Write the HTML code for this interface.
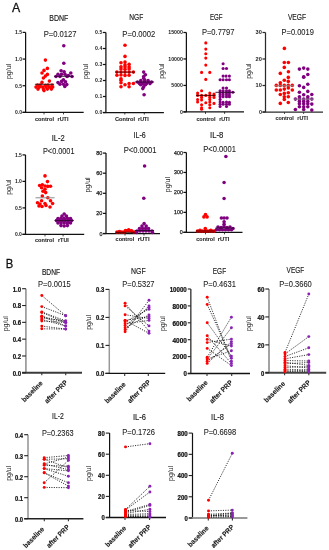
<!DOCTYPE html>
<html><head><meta charset="utf-8"><style>
html,body{margin:0;padding:0;background:#fff;overflow:hidden;}
svg{display:block;will-change:transform;}
text{font-family:"Liberation Sans", sans-serif;}
</style></head><body>
<svg width="329" height="550" viewBox="0 0 329 550">
<rect width="329" height="550" fill="#fff"/>
<text x="11.90" y="11.80" font-size="12.8" text-anchor="start" fill="#111" textLength="8.20" lengthAdjust="spacingAndGlyphs" stroke="#111" stroke-width="0.3">A</text>
<text x="5.80" y="267.70" font-size="12.8" text-anchor="start" fill="#111" textLength="7.50" lengthAdjust="spacingAndGlyphs" stroke="#111" stroke-width="0.3">B</text>
<line x1="25.60" y1="32.40" x2="25.60" y2="112.40" stroke="#111" stroke-width="1.25"/>
<line x1="22.60" y1="112.40" x2="83.70" y2="112.40" stroke="#111" stroke-width="1.25"/>
<line x1="22.60" y1="112.40" x2="25.60" y2="112.40" stroke="#111" stroke-width="1.25"/>
<text x="22.00" y="114.31" font-size="5.3" text-anchor="end" fill="#1a1a1a" font-weight="bold" textLength="7.00" lengthAdjust="spacingAndGlyphs">0.0</text>
<line x1="22.60" y1="85.73" x2="25.60" y2="85.73" stroke="#111" stroke-width="1.25"/>
<text x="22.00" y="87.64" font-size="5.3" text-anchor="end" fill="#1a1a1a" font-weight="bold" textLength="7.00" lengthAdjust="spacingAndGlyphs">0.5</text>
<line x1="22.60" y1="59.07" x2="25.60" y2="59.07" stroke="#111" stroke-width="1.25"/>
<text x="22.00" y="60.97" font-size="5.3" text-anchor="end" fill="#1a1a1a" font-weight="bold" textLength="7.00" lengthAdjust="spacingAndGlyphs">1.0</text>
<line x1="22.60" y1="32.40" x2="25.60" y2="32.40" stroke="#111" stroke-width="1.25"/>
<text x="22.00" y="34.31" font-size="5.3" text-anchor="end" fill="#1a1a1a" font-weight="bold" textLength="7.00" lengthAdjust="spacingAndGlyphs">1.5</text>
<line x1="44.00" y1="112.40" x2="44.00" y2="114.40" stroke="#111" stroke-width="0.8"/>
<line x1="63.50" y1="112.40" x2="63.50" y2="114.40" stroke="#111" stroke-width="0.8"/>
<text x="58.85" y="20.90" font-size="8.6" text-anchor="middle" fill="#1a1a1a" textLength="19.10" lengthAdjust="spacingAndGlyphs" stroke="#1a1a1a" stroke-width="0.15">BDNF</text>
<text x="60.15" y="36.80" font-size="9.0" text-anchor="middle" fill="#1a1a1a" textLength="32.90" lengthAdjust="spacingAndGlyphs" stroke="#1a1a1a" stroke-width="0.08">P=0.0127</text>
<text x="11.20" y="71.50" font-size="6.3" text-anchor="middle" fill="#222" textLength="15.20" lengthAdjust="spacingAndGlyphs" transform="rotate(-90 11.20 71.50)">pg/ul</text>
<text x="44.50" y="120.50" font-size="6.1" text-anchor="middle" fill="#2a2a2a" font-weight="bold" textLength="19.00" lengthAdjust="spacingAndGlyphs" stroke="#2a2a2a" stroke-width="0.1">control</text>
<text x="63.00" y="120.50" font-size="6.1" text-anchor="middle" fill="#2a2a2a" font-weight="bold" textLength="11.00" lengthAdjust="spacingAndGlyphs" stroke="#2a2a2a" stroke-width="0.1">rUTI</text>
<line x1="105.90" y1="32.50" x2="105.90" y2="112.50" stroke="#111" stroke-width="1.25"/>
<line x1="102.90" y1="112.50" x2="163.90" y2="112.50" stroke="#111" stroke-width="1.25"/>
<line x1="102.90" y1="112.50" x2="105.90" y2="112.50" stroke="#111" stroke-width="1.25"/>
<text x="102.30" y="114.41" font-size="5.3" text-anchor="end" fill="#1a1a1a" font-weight="bold" textLength="7.20" lengthAdjust="spacingAndGlyphs">0.0</text>
<line x1="102.90" y1="96.50" x2="105.90" y2="96.50" stroke="#111" stroke-width="1.25"/>
<text x="102.30" y="98.41" font-size="5.3" text-anchor="end" fill="#1a1a1a" font-weight="bold" textLength="7.20" lengthAdjust="spacingAndGlyphs">0.1</text>
<line x1="102.90" y1="80.50" x2="105.90" y2="80.50" stroke="#111" stroke-width="1.25"/>
<text x="102.30" y="82.41" font-size="5.3" text-anchor="end" fill="#1a1a1a" font-weight="bold" textLength="7.20" lengthAdjust="spacingAndGlyphs">0.2</text>
<line x1="102.90" y1="64.50" x2="105.90" y2="64.50" stroke="#111" stroke-width="1.25"/>
<text x="102.30" y="66.41" font-size="5.3" text-anchor="end" fill="#1a1a1a" font-weight="bold" textLength="7.20" lengthAdjust="spacingAndGlyphs">0.3</text>
<line x1="102.90" y1="48.50" x2="105.90" y2="48.50" stroke="#111" stroke-width="1.25"/>
<text x="102.30" y="50.41" font-size="5.3" text-anchor="end" fill="#1a1a1a" font-weight="bold" textLength="7.20" lengthAdjust="spacingAndGlyphs">0.4</text>
<line x1="102.90" y1="32.50" x2="105.90" y2="32.50" stroke="#111" stroke-width="1.25"/>
<text x="102.30" y="34.41" font-size="5.3" text-anchor="end" fill="#1a1a1a" font-weight="bold" textLength="7.20" lengthAdjust="spacingAndGlyphs">0.5</text>
<line x1="124.80" y1="112.50" x2="124.80" y2="114.50" stroke="#111" stroke-width="0.8"/>
<line x1="144.30" y1="112.50" x2="144.30" y2="114.50" stroke="#111" stroke-width="0.8"/>
<text x="136.30" y="19.90" font-size="8.6" text-anchor="middle" fill="#1a1a1a" textLength="14.00" lengthAdjust="spacingAndGlyphs" stroke="#1a1a1a" stroke-width="0.15">NGF</text>
<text x="138.80" y="36.90" font-size="9.0" text-anchor="middle" fill="#1a1a1a" textLength="32.90" lengthAdjust="spacingAndGlyphs" stroke="#1a1a1a" stroke-width="0.08">P=0.0002</text>
<text x="88.41" y="71.50" font-size="6.3" text-anchor="middle" fill="#222" textLength="15.20" lengthAdjust="spacingAndGlyphs" transform="rotate(-90 88.41 71.50)">pg/ul</text>
<text x="125.00" y="120.50" font-size="6.1" text-anchor="middle" fill="#2a2a2a" font-weight="bold" textLength="20.00" lengthAdjust="spacingAndGlyphs" stroke="#2a2a2a" stroke-width="0.1">Control</text>
<text x="143.40" y="120.50" font-size="6.1" text-anchor="middle" fill="#2a2a2a" font-weight="bold" textLength="10.70" lengthAdjust="spacingAndGlyphs" stroke="#2a2a2a" stroke-width="0.1">rUTI</text>
<line x1="186.40" y1="32.50" x2="186.40" y2="111.90" stroke="#111" stroke-width="1.25"/>
<line x1="183.40" y1="111.90" x2="244.00" y2="111.90" stroke="#111" stroke-width="1.25"/>
<line x1="183.40" y1="111.90" x2="186.40" y2="111.90" stroke="#111" stroke-width="1.25"/>
<text x="182.80" y="113.81" font-size="5.3" text-anchor="end" fill="#1a1a1a" font-weight="bold" textLength="2.90" lengthAdjust="spacingAndGlyphs">0</text>
<line x1="183.40" y1="85.43" x2="186.40" y2="85.43" stroke="#111" stroke-width="1.25"/>
<text x="182.80" y="87.34" font-size="5.3" text-anchor="end" fill="#1a1a1a" font-weight="bold" textLength="11.50" lengthAdjust="spacingAndGlyphs">5000</text>
<line x1="183.40" y1="58.97" x2="186.40" y2="58.97" stroke="#111" stroke-width="1.25"/>
<text x="182.80" y="60.87" font-size="5.3" text-anchor="end" fill="#1a1a1a" font-weight="bold" textLength="14.50" lengthAdjust="spacingAndGlyphs">10000</text>
<line x1="183.40" y1="32.50" x2="186.40" y2="32.50" stroke="#111" stroke-width="1.25"/>
<text x="182.80" y="34.41" font-size="5.3" text-anchor="end" fill="#1a1a1a" font-weight="bold" textLength="14.50" lengthAdjust="spacingAndGlyphs">15000</text>
<line x1="205.50" y1="111.90" x2="205.50" y2="113.90" stroke="#111" stroke-width="0.8"/>
<line x1="224.60" y1="111.90" x2="224.60" y2="113.90" stroke="#111" stroke-width="0.8"/>
<text x="216.30" y="19.70" font-size="8.6" text-anchor="middle" fill="#1a1a1a" textLength="12.60" lengthAdjust="spacingAndGlyphs" stroke="#1a1a1a" stroke-width="0.15">EGF</text>
<text x="218.20" y="35.30" font-size="9.0" text-anchor="middle" fill="#1a1a1a" textLength="32.60" lengthAdjust="spacingAndGlyphs" stroke="#1a1a1a" stroke-width="0.08">P=0.7797</text>
<text x="164.50" y="71.20" font-size="6.3" text-anchor="middle" fill="#222" textLength="15.20" lengthAdjust="spacingAndGlyphs" transform="rotate(-90 164.50 71.20)">pg/ul</text>
<text x="206.00" y="120.50" font-size="6.1" text-anchor="middle" fill="#2a2a2a" font-weight="bold" textLength="19.00" lengthAdjust="spacingAndGlyphs" stroke="#2a2a2a" stroke-width="0.1">control</text>
<text x="224.50" y="120.50" font-size="6.1" text-anchor="middle" fill="#2a2a2a" font-weight="bold" textLength="10.70" lengthAdjust="spacingAndGlyphs" stroke="#2a2a2a" stroke-width="0.1">rUTI</text>
<line x1="265.50" y1="32.50" x2="265.50" y2="112.00" stroke="#2a2a2a" stroke-width="1.25"/>
<line x1="262.50" y1="112.00" x2="323.00" y2="112.00" stroke="#2a2a2a" stroke-width="1.25"/>
<line x1="262.50" y1="112.00" x2="265.50" y2="112.00" stroke="#2a2a2a" stroke-width="1.25"/>
<text x="261.90" y="113.91" font-size="5.3" text-anchor="end" fill="#1a1a1a" font-weight="bold" textLength="3.00" lengthAdjust="spacingAndGlyphs">0</text>
<line x1="262.50" y1="85.50" x2="265.50" y2="85.50" stroke="#2a2a2a" stroke-width="1.25"/>
<text x="261.90" y="87.41" font-size="5.3" text-anchor="end" fill="#1a1a1a" font-weight="bold" textLength="6.30" lengthAdjust="spacingAndGlyphs">10</text>
<line x1="262.50" y1="59.00" x2="265.50" y2="59.00" stroke="#2a2a2a" stroke-width="1.25"/>
<text x="261.90" y="60.91" font-size="5.3" text-anchor="end" fill="#1a1a1a" font-weight="bold" textLength="6.30" lengthAdjust="spacingAndGlyphs">20</text>
<line x1="262.50" y1="32.50" x2="265.50" y2="32.50" stroke="#2a2a2a" stroke-width="1.25"/>
<text x="261.90" y="34.41" font-size="5.3" text-anchor="end" fill="#1a1a1a" font-weight="bold" textLength="6.30" lengthAdjust="spacingAndGlyphs">30</text>
<line x1="284.50" y1="112.00" x2="284.50" y2="114.00" stroke="#2a2a2a" stroke-width="0.8"/>
<line x1="303.60" y1="112.00" x2="303.60" y2="114.00" stroke="#2a2a2a" stroke-width="0.8"/>
<text x="297.00" y="19.60" font-size="8.6" text-anchor="middle" fill="#1a1a1a" textLength="18.20" lengthAdjust="spacingAndGlyphs" stroke="#1a1a1a" stroke-width="0.15">VEGF</text>
<text x="297.70" y="35.30" font-size="9.0" text-anchor="middle" fill="#1a1a1a" textLength="32.20" lengthAdjust="spacingAndGlyphs" stroke="#1a1a1a" stroke-width="0.08">P=0.0019</text>
<text x="251.20" y="71.20" font-size="6.3" text-anchor="middle" fill="#222" textLength="15.20" lengthAdjust="spacingAndGlyphs" transform="rotate(-90 251.20 71.20)">pg/ul</text>
<text x="284.60" y="119.90" font-size="6.1" text-anchor="middle" fill="#2a2a2a" font-weight="bold" textLength="18.40" lengthAdjust="spacingAndGlyphs" stroke="#2a2a2a" stroke-width="0.1">control</text>
<text x="302.70" y="119.90" font-size="6.1" text-anchor="middle" fill="#2a2a2a" font-weight="bold" textLength="10.70" lengthAdjust="spacingAndGlyphs" stroke="#2a2a2a" stroke-width="0.1">rUTI</text>
<line x1="25.50" y1="154.90" x2="25.50" y2="234.40" stroke="#111" stroke-width="1.25"/>
<line x1="22.50" y1="234.40" x2="84.20" y2="234.40" stroke="#111" stroke-width="1.25"/>
<line x1="22.50" y1="234.40" x2="25.50" y2="234.40" stroke="#111" stroke-width="1.25"/>
<text x="21.90" y="236.31" font-size="5.3" text-anchor="end" fill="#1a1a1a" font-weight="bold" textLength="7.00" lengthAdjust="spacingAndGlyphs">0.0</text>
<line x1="22.50" y1="207.90" x2="25.50" y2="207.90" stroke="#111" stroke-width="1.25"/>
<text x="21.90" y="209.81" font-size="5.3" text-anchor="end" fill="#1a1a1a" font-weight="bold" textLength="7.00" lengthAdjust="spacingAndGlyphs">0.5</text>
<line x1="22.50" y1="181.40" x2="25.50" y2="181.40" stroke="#111" stroke-width="1.25"/>
<text x="21.90" y="183.31" font-size="5.3" text-anchor="end" fill="#1a1a1a" font-weight="bold" textLength="7.00" lengthAdjust="spacingAndGlyphs">1.0</text>
<line x1="22.50" y1="154.90" x2="25.50" y2="154.90" stroke="#111" stroke-width="1.25"/>
<text x="21.90" y="156.81" font-size="5.3" text-anchor="end" fill="#1a1a1a" font-weight="bold" textLength="7.00" lengthAdjust="spacingAndGlyphs">1.5</text>
<line x1="45.00" y1="234.40" x2="45.00" y2="236.40" stroke="#111" stroke-width="0.8"/>
<line x1="63.10" y1="234.40" x2="63.10" y2="236.40" stroke="#111" stroke-width="0.8"/>
<text x="58.20" y="141.00" font-size="8.6" text-anchor="middle" fill="#1a1a1a" textLength="13.00" lengthAdjust="spacingAndGlyphs" stroke="#1a1a1a" stroke-width="0.15">IL-2</text>
<text x="58.75" y="153.80" font-size="9.0" text-anchor="middle" fill="#1a1a1a" textLength="31.50" lengthAdjust="spacingAndGlyphs" stroke="#1a1a1a" stroke-width="0.08">P&lt;0.0001</text>
<text x="11.30" y="187.20" font-size="6.3" text-anchor="middle" fill="#222" textLength="15.20" lengthAdjust="spacingAndGlyphs" transform="rotate(-90 11.30 187.20)">pg/ul</text>
<text x="44.50" y="242.20" font-size="6.1" text-anchor="middle" fill="#2a2a2a" font-weight="bold" textLength="19.00" lengthAdjust="spacingAndGlyphs" stroke="#2a2a2a" stroke-width="0.1">control</text>
<text x="63.40" y="242.20" font-size="6.1" text-anchor="middle" fill="#2a2a2a" font-weight="bold" textLength="11.00" lengthAdjust="spacingAndGlyphs" stroke="#2a2a2a" stroke-width="0.1">rTUI</text>
<line x1="106.00" y1="153.10" x2="106.00" y2="233.50" stroke="#111" stroke-width="1.25"/>
<line x1="103.00" y1="233.50" x2="160.00" y2="233.50" stroke="#111" stroke-width="1.25"/>
<line x1="103.00" y1="233.50" x2="106.00" y2="233.50" stroke="#111" stroke-width="1.25"/>
<text x="102.40" y="235.52" font-size="5.6" text-anchor="end" fill="#1a1a1a" textLength="3.00" lengthAdjust="spacingAndGlyphs" stroke="#1a1a1a" stroke-width="0.25">0</text>
<line x1="103.00" y1="213.40" x2="106.00" y2="213.40" stroke="#111" stroke-width="1.25"/>
<text x="102.40" y="215.42" font-size="5.6" text-anchor="end" fill="#1a1a1a" textLength="6.20" lengthAdjust="spacingAndGlyphs" stroke="#1a1a1a" stroke-width="0.25">20</text>
<line x1="103.00" y1="193.30" x2="106.00" y2="193.30" stroke="#111" stroke-width="1.25"/>
<text x="102.40" y="195.32" font-size="5.6" text-anchor="end" fill="#1a1a1a" textLength="6.20" lengthAdjust="spacingAndGlyphs" stroke="#1a1a1a" stroke-width="0.25">40</text>
<line x1="103.00" y1="173.20" x2="106.00" y2="173.20" stroke="#111" stroke-width="1.25"/>
<text x="102.40" y="175.22" font-size="5.6" text-anchor="end" fill="#1a1a1a" textLength="6.20" lengthAdjust="spacingAndGlyphs" stroke="#1a1a1a" stroke-width="0.25">60</text>
<line x1="103.00" y1="153.10" x2="106.00" y2="153.10" stroke="#111" stroke-width="1.25"/>
<text x="102.40" y="155.12" font-size="5.6" text-anchor="end" fill="#1a1a1a" textLength="6.20" lengthAdjust="spacingAndGlyphs" stroke="#1a1a1a" stroke-width="0.25">80</text>
<line x1="125.00" y1="233.50" x2="125.00" y2="235.50" stroke="#111" stroke-width="0.8"/>
<line x1="144.00" y1="233.50" x2="144.00" y2="235.50" stroke="#111" stroke-width="0.8"/>
<text x="139.60" y="137.90" font-size="8.6" text-anchor="middle" fill="#1a1a1a" textLength="12.20" lengthAdjust="spacingAndGlyphs" stroke="#1a1a1a" stroke-width="0.15">IL-6</text>
<text x="140.15" y="152.70" font-size="9.0" text-anchor="middle" fill="#1a1a1a" textLength="32.90" lengthAdjust="spacingAndGlyphs" stroke="#1a1a1a" stroke-width="0.08">P&lt;0.0001</text>
<text x="89.91" y="185.00" font-size="6.3" text-anchor="middle" fill="#222" textLength="15.20" lengthAdjust="spacingAndGlyphs" transform="rotate(-90 89.91 185.00)">pg/ul</text>
<text x="124.90" y="241.40" font-size="6.1" text-anchor="middle" fill="#2a2a2a" font-weight="bold" textLength="18.60" lengthAdjust="spacingAndGlyphs" stroke="#2a2a2a" stroke-width="0.1">control</text>
<text x="143.70" y="241.40" font-size="6.1" text-anchor="middle" fill="#2a2a2a" font-weight="bold" textLength="11.90" lengthAdjust="spacingAndGlyphs" stroke="#2a2a2a" stroke-width="0.1">rUTI</text>
<line x1="186.40" y1="152.50" x2="186.40" y2="232.30" stroke="#111" stroke-width="1.25"/>
<line x1="183.40" y1="232.30" x2="242.50" y2="232.30" stroke="#111" stroke-width="1.25"/>
<line x1="183.40" y1="232.30" x2="186.40" y2="232.30" stroke="#111" stroke-width="1.25"/>
<text x="182.80" y="234.32" font-size="5.6" text-anchor="end" fill="#1a1a1a" textLength="3.00" lengthAdjust="spacingAndGlyphs" stroke="#1a1a1a" stroke-width="0.25">0</text>
<line x1="183.40" y1="212.35" x2="186.40" y2="212.35" stroke="#111" stroke-width="1.25"/>
<text x="182.80" y="214.37" font-size="5.6" text-anchor="end" fill="#1a1a1a" textLength="8.70" lengthAdjust="spacingAndGlyphs" stroke="#1a1a1a" stroke-width="0.25">100</text>
<line x1="183.40" y1="192.40" x2="186.40" y2="192.40" stroke="#111" stroke-width="1.25"/>
<text x="182.80" y="194.42" font-size="5.6" text-anchor="end" fill="#1a1a1a" textLength="8.70" lengthAdjust="spacingAndGlyphs" stroke="#1a1a1a" stroke-width="0.25">200</text>
<line x1="183.40" y1="172.45" x2="186.40" y2="172.45" stroke="#111" stroke-width="1.25"/>
<text x="182.80" y="174.47" font-size="5.6" text-anchor="end" fill="#1a1a1a" textLength="8.70" lengthAdjust="spacingAndGlyphs" stroke="#1a1a1a" stroke-width="0.25">300</text>
<line x1="183.40" y1="152.50" x2="186.40" y2="152.50" stroke="#111" stroke-width="1.25"/>
<text x="182.80" y="154.52" font-size="5.6" text-anchor="end" fill="#1a1a1a" textLength="8.70" lengthAdjust="spacingAndGlyphs" stroke="#1a1a1a" stroke-width="0.25">400</text>
<line x1="205.50" y1="232.30" x2="205.50" y2="234.30" stroke="#111" stroke-width="0.8"/>
<line x1="224.50" y1="232.30" x2="224.50" y2="234.30" stroke="#111" stroke-width="0.8"/>
<text x="216.65" y="137.90" font-size="8.6" text-anchor="middle" fill="#1a1a1a" textLength="13.30" lengthAdjust="spacingAndGlyphs" stroke="#1a1a1a" stroke-width="0.15">IL-8</text>
<text x="219.60" y="152.40" font-size="9.0" text-anchor="middle" fill="#1a1a1a" textLength="32.60" lengthAdjust="spacingAndGlyphs" stroke="#1a1a1a" stroke-width="0.08">P&lt;0.0001</text>
<text x="169.70" y="184.60" font-size="6.3" text-anchor="middle" fill="#222" textLength="15.20" lengthAdjust="spacingAndGlyphs" transform="rotate(-90 169.70 184.60)">pg/ul</text>
<text x="205.50" y="240.50" font-size="6.1" text-anchor="middle" fill="#2a2a2a" font-weight="bold" textLength="18.30" lengthAdjust="spacingAndGlyphs" stroke="#2a2a2a" stroke-width="0.1">control</text>
<text x="223.60" y="240.50" font-size="6.1" text-anchor="middle" fill="#2a2a2a" font-weight="bold" textLength="11.50" lengthAdjust="spacingAndGlyphs" stroke="#2a2a2a" stroke-width="0.1">rUTI</text>
<circle cx="45.40" cy="60.10" r="1.8" fill="#ff0000"/>
<circle cx="47.40" cy="68.40" r="1.8" fill="#ff0000"/>
<circle cx="44.00" cy="70.40" r="1.8" fill="#ff0000"/>
<circle cx="42.00" cy="73.00" r="1.8" fill="#ff0000"/>
<circle cx="47.40" cy="74.40" r="1.8" fill="#ff0000"/>
<circle cx="45.40" cy="76.10" r="1.8" fill="#ff0000"/>
<circle cx="43.40" cy="78.00" r="1.8" fill="#ff0000"/>
<circle cx="49.40" cy="81.10" r="1.8" fill="#ff0000"/>
<circle cx="42.00" cy="82.40" r="1.8" fill="#ff0000"/>
<circle cx="37.50" cy="85.10" r="1.8" fill="#ff0000"/>
<circle cx="40.20" cy="85.10" r="1.8" fill="#ff0000"/>
<circle cx="45.40" cy="85.30" r="1.8" fill="#ff0000"/>
<circle cx="48.00" cy="85.10" r="1.8" fill="#ff0000"/>
<circle cx="52.00" cy="85.10" r="1.8" fill="#ff0000"/>
<circle cx="36.00" cy="87.10" r="1.8" fill="#ff0000"/>
<circle cx="39.40" cy="87.10" r="1.8" fill="#ff0000"/>
<circle cx="42.70" cy="87.10" r="1.8" fill="#ff0000"/>
<circle cx="46.00" cy="87.10" r="1.8" fill="#ff0000"/>
<circle cx="49.40" cy="87.10" r="1.8" fill="#ff0000"/>
<circle cx="52.70" cy="87.10" r="1.8" fill="#ff0000"/>
<circle cx="38.00" cy="89.10" r="1.8" fill="#ff0000"/>
<circle cx="43.40" cy="89.10" r="1.8" fill="#ff0000"/>
<circle cx="47.40" cy="89.10" r="1.8" fill="#ff0000"/>
<circle cx="51.40" cy="89.10" r="1.8" fill="#ff0000"/>
<circle cx="44.00" cy="90.60" r="1.8" fill="#ff0000"/>
<circle cx="63.80" cy="45.80" r="1.8" fill="#800080"/>
<circle cx="63.80" cy="63.30" r="1.8" fill="#800080"/>
<circle cx="61.10" cy="70.80" r="1.8" fill="#800080"/>
<circle cx="64.10" cy="71.70" r="1.8" fill="#800080"/>
<circle cx="70.80" cy="73.00" r="1.8" fill="#800080"/>
<circle cx="58.00" cy="74.30" r="1.8" fill="#800080"/>
<circle cx="61.50" cy="74.30" r="1.8" fill="#800080"/>
<circle cx="65.00" cy="74.30" r="1.8" fill="#800080"/>
<circle cx="68.40" cy="75.60" r="1.8" fill="#800080"/>
<circle cx="56.00" cy="76.50" r="1.8" fill="#800080"/>
<circle cx="60.00" cy="76.50" r="1.8" fill="#800080"/>
<circle cx="67.00" cy="76.50" r="1.8" fill="#800080"/>
<circle cx="72.00" cy="76.50" r="1.8" fill="#800080"/>
<circle cx="63.40" cy="79.70" r="1.8" fill="#800080"/>
<circle cx="61.60" cy="81.40" r="1.8" fill="#800080"/>
<circle cx="65.50" cy="81.80" r="1.8" fill="#800080"/>
<circle cx="60.00" cy="84.30" r="1.8" fill="#800080"/>
<circle cx="63.40" cy="84.30" r="1.8" fill="#800080"/>
<circle cx="66.80" cy="84.60" r="1.8" fill="#800080"/>
<circle cx="64.80" cy="86.40" r="1.8" fill="#800080"/>
<circle cx="58.00" cy="82.60" r="1.8" fill="#800080"/>
<line x1="34.90" y1="84.30" x2="54.10" y2="84.30" stroke="#222" stroke-width="0.9"/>
<line x1="54.10" y1="76.30" x2="73.40" y2="76.30" stroke="#2b0a2b" stroke-width="0.9"/>
<circle cx="125.00" cy="45.30" r="1.8" fill="#ff0000"/>
<circle cx="125.00" cy="56.40" r="1.8" fill="#ff0000"/>
<circle cx="121.00" cy="62.70" r="1.8" fill="#ff0000"/>
<circle cx="125.00" cy="62.10" r="1.8" fill="#ff0000"/>
<circle cx="129.10" cy="64.30" r="1.8" fill="#ff0000"/>
<circle cx="125.00" cy="64.90" r="1.8" fill="#ff0000"/>
<circle cx="121.00" cy="66.70" r="1.8" fill="#ff0000"/>
<circle cx="125.00" cy="66.90" r="1.8" fill="#ff0000"/>
<circle cx="129.10" cy="66.90" r="1.8" fill="#ff0000"/>
<circle cx="121.00" cy="68.90" r="1.8" fill="#ff0000"/>
<circle cx="125.00" cy="69.20" r="1.8" fill="#ff0000"/>
<circle cx="129.10" cy="68.90" r="1.8" fill="#ff0000"/>
<circle cx="116.90" cy="72.10" r="1.8" fill="#ff0000"/>
<circle cx="121.00" cy="72.10" r="1.8" fill="#ff0000"/>
<circle cx="125.00" cy="72.10" r="1.8" fill="#ff0000"/>
<circle cx="129.10" cy="72.10" r="1.8" fill="#ff0000"/>
<circle cx="133.40" cy="72.10" r="1.8" fill="#ff0000"/>
<circle cx="116.90" cy="75.30" r="1.8" fill="#ff0000"/>
<circle cx="121.00" cy="75.00" r="1.8" fill="#ff0000"/>
<circle cx="125.00" cy="75.40" r="1.8" fill="#ff0000"/>
<circle cx="129.10" cy="75.30" r="1.8" fill="#ff0000"/>
<circle cx="121.00" cy="78.80" r="1.8" fill="#ff0000"/>
<circle cx="121.00" cy="80.30" r="1.8" fill="#ff0000"/>
<circle cx="121.00" cy="82.80" r="1.8" fill="#ff0000"/>
<circle cx="125.00" cy="84.70" r="1.8" fill="#ff0000"/>
<circle cx="129.10" cy="83.50" r="1.8" fill="#ff0000"/>
<circle cx="133.40" cy="83.50" r="1.8" fill="#ff0000"/>
<circle cx="121.00" cy="86.70" r="1.8" fill="#ff0000"/>
<circle cx="129.10" cy="86.70" r="1.8" fill="#ff0000"/>
<circle cx="143.70" cy="72.10" r="1.8" fill="#800080"/>
<circle cx="145.40" cy="74.70" r="1.8" fill="#800080"/>
<circle cx="143.70" cy="76.60" r="1.8" fill="#800080"/>
<circle cx="143.70" cy="78.20" r="1.8" fill="#800080"/>
<circle cx="140.80" cy="80.50" r="1.8" fill="#800080"/>
<circle cx="144.70" cy="80.00" r="1.8" fill="#800080"/>
<circle cx="148.10" cy="80.50" r="1.8" fill="#800080"/>
<circle cx="137.50" cy="82.00" r="1.8" fill="#800080"/>
<circle cx="141.00" cy="82.00" r="1.8" fill="#800080"/>
<circle cx="144.50" cy="82.00" r="1.8" fill="#800080"/>
<circle cx="148.00" cy="82.00" r="1.8" fill="#800080"/>
<circle cx="151.50" cy="82.00" r="1.8" fill="#800080"/>
<circle cx="139.50" cy="83.60" r="1.8" fill="#800080"/>
<circle cx="143.00" cy="83.60" r="1.8" fill="#800080"/>
<circle cx="146.50" cy="83.60" r="1.8" fill="#800080"/>
<circle cx="150.00" cy="83.60" r="1.8" fill="#800080"/>
<circle cx="140.80" cy="84.80" r="1.8" fill="#800080"/>
<circle cx="145.40" cy="84.80" r="1.8" fill="#800080"/>
<circle cx="143.70" cy="86.70" r="1.8" fill="#800080"/>
<circle cx="142.80" cy="88.60" r="1.8" fill="#800080"/>
<circle cx="144.10" cy="94.80" r="1.8" fill="#800080"/>
<line x1="115.30" y1="72.10" x2="134.70" y2="72.10" stroke="#3a0000" stroke-width="0.9"/>
<line x1="134.70" y1="82.00" x2="154.10" y2="82.00" stroke="#2b0a2b" stroke-width="0.9"/>
<circle cx="205.80" cy="42.90" r="1.55" fill="#ff0000"/>
<circle cx="205.80" cy="49.10" r="1.55" fill="#ff0000"/>
<circle cx="205.80" cy="53.80" r="1.55" fill="#ff0000"/>
<circle cx="205.80" cy="58.10" r="1.55" fill="#ff0000"/>
<circle cx="205.80" cy="65.10" r="1.55" fill="#ff0000"/>
<circle cx="201.60" cy="72.40" r="1.55" fill="#ff0000"/>
<circle cx="209.80" cy="72.40" r="1.55" fill="#ff0000"/>
<circle cx="205.80" cy="79.40" r="1.55" fill="#ff0000"/>
<circle cx="201.60" cy="90.70" r="1.55" fill="#ff0000"/>
<circle cx="197.60" cy="93.10" r="1.55" fill="#ff0000"/>
<circle cx="209.80" cy="93.10" r="1.55" fill="#ff0000"/>
<circle cx="214.00" cy="94.00" r="1.55" fill="#ff0000"/>
<circle cx="197.60" cy="95.40" r="1.55" fill="#ff0000"/>
<circle cx="201.60" cy="95.40" r="1.55" fill="#ff0000"/>
<circle cx="205.80" cy="95.40" r="1.55" fill="#ff0000"/>
<circle cx="209.80" cy="95.40" r="1.55" fill="#ff0000"/>
<circle cx="214.00" cy="95.40" r="1.55" fill="#ff0000"/>
<circle cx="201.60" cy="97.40" r="1.55" fill="#ff0000"/>
<circle cx="209.80" cy="97.40" r="1.55" fill="#ff0000"/>
<circle cx="214.00" cy="97.40" r="1.55" fill="#ff0000"/>
<circle cx="197.60" cy="99.60" r="1.55" fill="#ff0000"/>
<circle cx="201.60" cy="99.90" r="1.55" fill="#ff0000"/>
<circle cx="209.80" cy="99.60" r="1.55" fill="#ff0000"/>
<circle cx="197.60" cy="102.00" r="1.55" fill="#ff0000"/>
<circle cx="205.80" cy="102.80" r="1.55" fill="#ff0000"/>
<circle cx="209.80" cy="102.00" r="1.55" fill="#ff0000"/>
<circle cx="214.00" cy="103.40" r="1.55" fill="#ff0000"/>
<circle cx="201.60" cy="104.80" r="1.55" fill="#ff0000"/>
<circle cx="209.80" cy="104.80" r="1.55" fill="#ff0000"/>
<circle cx="201.60" cy="107.80" r="1.55" fill="#ff0000"/>
<circle cx="209.80" cy="107.80" r="1.55" fill="#ff0000"/>
<circle cx="201.60" cy="109.20" r="1.55" fill="#ff0000"/>
<circle cx="223.10" cy="63.70" r="1.55" fill="#800080"/>
<circle cx="223.10" cy="68.50" r="1.55" fill="#800080"/>
<circle cx="226.50" cy="68.50" r="1.55" fill="#800080"/>
<circle cx="223.10" cy="76.10" r="1.55" fill="#800080"/>
<circle cx="226.10" cy="76.10" r="1.55" fill="#800080"/>
<circle cx="229.40" cy="76.10" r="1.55" fill="#800080"/>
<circle cx="220.10" cy="79.80" r="1.55" fill="#800080"/>
<circle cx="223.10" cy="79.80" r="1.55" fill="#800080"/>
<circle cx="226.50" cy="79.80" r="1.55" fill="#800080"/>
<circle cx="229.40" cy="79.80" r="1.55" fill="#800080"/>
<circle cx="223.10" cy="88.00" r="1.55" fill="#800080"/>
<circle cx="226.50" cy="88.00" r="1.55" fill="#800080"/>
<circle cx="220.10" cy="90.70" r="1.55" fill="#800080"/>
<circle cx="223.10" cy="90.70" r="1.55" fill="#800080"/>
<circle cx="226.50" cy="90.70" r="1.55" fill="#800080"/>
<circle cx="229.40" cy="90.70" r="1.55" fill="#800080"/>
<circle cx="220.10" cy="92.70" r="1.55" fill="#800080"/>
<circle cx="223.10" cy="92.70" r="1.55" fill="#800080"/>
<circle cx="226.50" cy="92.70" r="1.55" fill="#800080"/>
<circle cx="229.40" cy="92.70" r="1.55" fill="#800080"/>
<circle cx="232.80" cy="92.30" r="1.55" fill="#800080"/>
<circle cx="220.10" cy="94.70" r="1.55" fill="#800080"/>
<circle cx="223.10" cy="94.70" r="1.55" fill="#800080"/>
<circle cx="226.50" cy="94.70" r="1.55" fill="#800080"/>
<circle cx="229.40" cy="95.00" r="1.55" fill="#800080"/>
<circle cx="220.10" cy="96.70" r="1.55" fill="#800080"/>
<circle cx="223.10" cy="96.70" r="1.55" fill="#800080"/>
<circle cx="226.50" cy="96.70" r="1.55" fill="#800080"/>
<circle cx="229.40" cy="96.70" r="1.55" fill="#800080"/>
<circle cx="220.10" cy="99.40" r="1.55" fill="#800080"/>
<circle cx="220.10" cy="102.00" r="1.55" fill="#800080"/>
<circle cx="223.10" cy="102.40" r="1.55" fill="#800080"/>
<circle cx="226.50" cy="102.00" r="1.55" fill="#800080"/>
<circle cx="229.40" cy="102.40" r="1.55" fill="#800080"/>
<circle cx="220.10" cy="104.20" r="1.55" fill="#800080"/>
<circle cx="223.10" cy="104.20" r="1.55" fill="#800080"/>
<circle cx="226.50" cy="104.20" r="1.55" fill="#800080"/>
<circle cx="229.40" cy="104.20" r="1.55" fill="#800080"/>
<circle cx="220.10" cy="106.50" r="1.55" fill="#800080"/>
<circle cx="226.50" cy="106.50" r="1.55" fill="#800080"/>
<line x1="196.00" y1="95.40" x2="215.40" y2="95.40" stroke="#3a0000" stroke-width="0.9"/>
<line x1="215.40" y1="92.30" x2="234.80" y2="92.30" stroke="#2b0a2b" stroke-width="0.9"/>
<circle cx="284.40" cy="48.40" r="1.8" fill="#ff0000"/>
<circle cx="284.30" cy="62.50" r="1.8" fill="#ff0000"/>
<circle cx="288.40" cy="62.50" r="1.8" fill="#ff0000"/>
<circle cx="284.30" cy="67.40" r="1.8" fill="#ff0000"/>
<circle cx="288.40" cy="71.70" r="1.8" fill="#ff0000"/>
<circle cx="280.30" cy="73.40" r="1.8" fill="#ff0000"/>
<circle cx="288.30" cy="77.40" r="1.8" fill="#ff0000"/>
<circle cx="284.30" cy="80.30" r="1.8" fill="#ff0000"/>
<circle cx="288.30" cy="81.40" r="1.8" fill="#ff0000"/>
<circle cx="280.30" cy="82.70" r="1.8" fill="#ff0000"/>
<circle cx="276.30" cy="85.40" r="1.8" fill="#ff0000"/>
<circle cx="280.30" cy="85.40" r="1.8" fill="#ff0000"/>
<circle cx="284.30" cy="85.40" r="1.8" fill="#ff0000"/>
<circle cx="288.30" cy="85.40" r="1.8" fill="#ff0000"/>
<circle cx="292.30" cy="85.40" r="1.8" fill="#ff0000"/>
<circle cx="276.30" cy="90.00" r="1.8" fill="#ff0000"/>
<circle cx="280.30" cy="90.00" r="1.8" fill="#ff0000"/>
<circle cx="284.30" cy="89.10" r="1.8" fill="#ff0000"/>
<circle cx="288.30" cy="88.00" r="1.8" fill="#ff0000"/>
<circle cx="292.30" cy="90.00" r="1.8" fill="#ff0000"/>
<circle cx="280.30" cy="94.50" r="1.8" fill="#ff0000"/>
<circle cx="284.30" cy="93.40" r="1.8" fill="#ff0000"/>
<circle cx="288.30" cy="92.70" r="1.8" fill="#ff0000"/>
<circle cx="284.30" cy="96.70" r="1.8" fill="#ff0000"/>
<circle cx="288.30" cy="96.70" r="1.8" fill="#ff0000"/>
<circle cx="284.30" cy="99.40" r="1.8" fill="#ff0000"/>
<circle cx="280.30" cy="103.40" r="1.8" fill="#ff0000"/>
<circle cx="288.30" cy="102.50" r="1.8" fill="#ff0000"/>
<circle cx="299.40" cy="69.10" r="1.8" fill="#800080"/>
<circle cx="303.70" cy="68.10" r="1.8" fill="#800080"/>
<circle cx="307.80" cy="69.10" r="1.8" fill="#800080"/>
<circle cx="307.80" cy="74.50" r="1.8" fill="#800080"/>
<circle cx="303.70" cy="76.80" r="1.8" fill="#800080"/>
<circle cx="303.70" cy="77.30" r="1.8" fill="#800080"/>
<circle cx="307.80" cy="84.30" r="1.8" fill="#800080"/>
<circle cx="299.40" cy="85.80" r="1.8" fill="#800080"/>
<circle cx="303.70" cy="87.40" r="1.8" fill="#800080"/>
<circle cx="299.40" cy="92.30" r="1.8" fill="#800080"/>
<circle cx="307.80" cy="91.40" r="1.8" fill="#800080"/>
<circle cx="303.70" cy="94.70" r="1.8" fill="#800080"/>
<circle cx="311.80" cy="94.50" r="1.8" fill="#800080"/>
<circle cx="299.40" cy="96.70" r="1.8" fill="#800080"/>
<circle cx="307.80" cy="96.70" r="1.8" fill="#800080"/>
<circle cx="295.40" cy="99.10" r="1.8" fill="#800080"/>
<circle cx="299.40" cy="99.10" r="1.8" fill="#800080"/>
<circle cx="303.70" cy="99.10" r="1.8" fill="#800080"/>
<circle cx="307.80" cy="98.80" r="1.8" fill="#800080"/>
<circle cx="311.80" cy="99.10" r="1.8" fill="#800080"/>
<circle cx="299.40" cy="101.40" r="1.8" fill="#800080"/>
<circle cx="303.70" cy="101.40" r="1.8" fill="#800080"/>
<circle cx="307.80" cy="101.40" r="1.8" fill="#800080"/>
<circle cx="299.40" cy="103.80" r="1.8" fill="#800080"/>
<circle cx="303.70" cy="103.80" r="1.8" fill="#800080"/>
<circle cx="307.80" cy="103.80" r="1.8" fill="#800080"/>
<circle cx="311.80" cy="104.10" r="1.8" fill="#800080"/>
<circle cx="299.40" cy="106.80" r="1.8" fill="#800080"/>
<circle cx="303.70" cy="106.80" r="1.8" fill="#800080"/>
<circle cx="307.80" cy="106.80" r="1.8" fill="#800080"/>
<circle cx="295.40" cy="109.50" r="1.8" fill="#800080"/>
<circle cx="303.70" cy="109.50" r="1.8" fill="#800080"/>
<circle cx="311.80" cy="110.10" r="1.8" fill="#800080"/>
<line x1="274.70" y1="85.80" x2="294.00" y2="85.80" stroke="#8a8a8a" stroke-width="1.0"/>
<line x1="294.00" y1="99.10" x2="313.20" y2="99.10" stroke="#8a8a8a" stroke-width="1.0"/>
<circle cx="45.00" cy="175.90" r="1.8" fill="#ff0000"/>
<circle cx="47.50" cy="181.60" r="1.8" fill="#ff0000"/>
<circle cx="39.60" cy="185.50" r="1.8" fill="#ff0000"/>
<circle cx="42.30" cy="184.70" r="1.8" fill="#ff0000"/>
<circle cx="45.00" cy="186.00" r="1.8" fill="#ff0000"/>
<circle cx="47.70" cy="186.40" r="1.8" fill="#ff0000"/>
<circle cx="50.50" cy="186.20" r="1.8" fill="#ff0000"/>
<circle cx="41.60" cy="187.80" r="1.8" fill="#ff0000"/>
<circle cx="45.00" cy="189.20" r="1.8" fill="#ff0000"/>
<circle cx="43.00" cy="191.20" r="1.8" fill="#ff0000"/>
<circle cx="45.70" cy="192.60" r="1.8" fill="#ff0000"/>
<circle cx="42.30" cy="196.00" r="1.8" fill="#ff0000"/>
<circle cx="47.80" cy="197.80" r="1.8" fill="#ff0000"/>
<circle cx="37.50" cy="202.80" r="1.8" fill="#ff0000"/>
<circle cx="41.60" cy="200.80" r="1.8" fill="#ff0000"/>
<circle cx="45.00" cy="203.50" r="1.8" fill="#ff0000"/>
<circle cx="50.50" cy="200.80" r="1.8" fill="#ff0000"/>
<circle cx="52.60" cy="203.50" r="1.8" fill="#ff0000"/>
<circle cx="39.00" cy="206.00" r="1.8" fill="#ff0000"/>
<circle cx="42.00" cy="206.50" r="1.8" fill="#ff0000"/>
<circle cx="46.00" cy="205.50" r="1.8" fill="#ff0000"/>
<circle cx="50.00" cy="207.00" r="1.8" fill="#ff0000"/>
<circle cx="40.00" cy="204.00" r="1.8" fill="#ff0000"/>
<circle cx="64.20" cy="214.00" r="1.8" fill="#800080"/>
<circle cx="62.00" cy="216.00" r="1.8" fill="#800080"/>
<circle cx="66.40" cy="216.00" r="1.8" fill="#800080"/>
<circle cx="58.00" cy="218.50" r="1.8" fill="#800080"/>
<circle cx="61.00" cy="218.30" r="1.8" fill="#800080"/>
<circle cx="64.20" cy="218.30" r="1.8" fill="#800080"/>
<circle cx="67.40" cy="218.30" r="1.8" fill="#800080"/>
<circle cx="70.50" cy="218.50" r="1.8" fill="#800080"/>
<circle cx="56.50" cy="220.60" r="1.8" fill="#800080"/>
<circle cx="59.50" cy="220.60" r="1.8" fill="#800080"/>
<circle cx="62.50" cy="220.60" r="1.8" fill="#800080"/>
<circle cx="65.50" cy="220.60" r="1.8" fill="#800080"/>
<circle cx="68.50" cy="220.60" r="1.8" fill="#800080"/>
<circle cx="71.50" cy="220.60" r="1.8" fill="#800080"/>
<circle cx="58.00" cy="223.00" r="1.8" fill="#800080"/>
<circle cx="61.00" cy="223.00" r="1.8" fill="#800080"/>
<circle cx="64.20" cy="223.00" r="1.8" fill="#800080"/>
<circle cx="67.40" cy="223.00" r="1.8" fill="#800080"/>
<circle cx="70.50" cy="223.00" r="1.8" fill="#800080"/>
<circle cx="61.00" cy="225.60" r="1.8" fill="#800080"/>
<circle cx="64.20" cy="226.00" r="1.8" fill="#800080"/>
<circle cx="67.40" cy="225.60" r="1.8" fill="#800080"/>
<line x1="35.50" y1="197.80" x2="54.60" y2="197.80" stroke="#8a8a8a" stroke-width="1.0"/>
<line x1="54.60" y1="220.60" x2="73.80" y2="220.60" stroke="#2b0a2b" stroke-width="0.9"/>
<circle cx="117.00" cy="232.00" r="1.8" fill="#ff0000"/>
<circle cx="119.40" cy="232.00" r="1.8" fill="#ff0000"/>
<circle cx="121.80" cy="232.00" r="1.8" fill="#ff0000"/>
<circle cx="124.20" cy="232.00" r="1.8" fill="#ff0000"/>
<circle cx="126.60" cy="230.70" r="1.8" fill="#ff0000"/>
<circle cx="129.00" cy="230.70" r="1.8" fill="#ff0000"/>
<circle cx="131.40" cy="230.70" r="1.8" fill="#ff0000"/>
<circle cx="133.80" cy="232.00" r="1.8" fill="#ff0000"/>
<circle cx="128.70" cy="229.70" r="1.8" fill="#ff0000"/>
<circle cx="125.50" cy="230.50" r="1.8" fill="#ff0000"/>
<circle cx="131.50" cy="231.00" r="1.8" fill="#ff0000"/>
<circle cx="119.50" cy="231.50" r="1.8" fill="#ff0000"/>
<circle cx="144.60" cy="166.00" r="1.8" fill="#800080"/>
<circle cx="143.80" cy="198.30" r="1.8" fill="#800080"/>
<circle cx="144.10" cy="223.60" r="1.8" fill="#800080"/>
<circle cx="142.00" cy="226.00" r="1.8" fill="#800080"/>
<circle cx="146.20" cy="226.00" r="1.8" fill="#800080"/>
<circle cx="139.50" cy="228.50" r="1.8" fill="#800080"/>
<circle cx="142.50" cy="228.50" r="1.8" fill="#800080"/>
<circle cx="145.50" cy="228.50" r="1.8" fill="#800080"/>
<circle cx="148.50" cy="228.50" r="1.8" fill="#800080"/>
<circle cx="137.00" cy="231.00" r="1.8" fill="#800080"/>
<circle cx="140.00" cy="231.00" r="1.8" fill="#800080"/>
<circle cx="143.00" cy="231.00" r="1.8" fill="#800080"/>
<circle cx="146.00" cy="231.00" r="1.8" fill="#800080"/>
<circle cx="149.00" cy="231.00" r="1.8" fill="#800080"/>
<circle cx="152.00" cy="231.00" r="1.8" fill="#800080"/>
<circle cx="136.50" cy="232.50" r="1.8" fill="#800080"/>
<circle cx="152.50" cy="232.50" r="1.8" fill="#800080"/>
<line x1="115.30" y1="232.30" x2="134.70" y2="232.30" stroke="#3a0000" stroke-width="0.9"/>
<line x1="134.70" y1="230.50" x2="154.10" y2="230.50" stroke="#2b0a2b" stroke-width="0.9"/>
<circle cx="205.50" cy="214.60" r="1.8" fill="#ff0000"/>
<circle cx="203.90" cy="216.90" r="1.8" fill="#ff0000"/>
<circle cx="207.10" cy="216.90" r="1.8" fill="#ff0000"/>
<circle cx="200.00" cy="230.40" r="1.8" fill="#ff0000"/>
<circle cx="210.80" cy="230.40" r="1.8" fill="#ff0000"/>
<circle cx="197.50" cy="231.00" r="1.8" fill="#ff0000"/>
<circle cx="199.90" cy="231.00" r="1.8" fill="#ff0000"/>
<circle cx="202.30" cy="231.00" r="1.8" fill="#ff0000"/>
<circle cx="204.70" cy="231.00" r="1.8" fill="#ff0000"/>
<circle cx="207.10" cy="231.00" r="1.8" fill="#ff0000"/>
<circle cx="209.50" cy="231.00" r="1.8" fill="#ff0000"/>
<circle cx="211.90" cy="231.00" r="1.8" fill="#ff0000"/>
<circle cx="214.30" cy="231.00" r="1.8" fill="#ff0000"/>
<circle cx="205.30" cy="228.60" r="1.8" fill="#ff0000"/>
<circle cx="225.90" cy="156.50" r="1.8" fill="#800080"/>
<circle cx="224.10" cy="182.50" r="1.8" fill="#800080"/>
<circle cx="224.10" cy="198.50" r="1.8" fill="#800080"/>
<circle cx="221.40" cy="218.00" r="1.8" fill="#800080"/>
<circle cx="224.10" cy="218.00" r="1.8" fill="#800080"/>
<circle cx="227.00" cy="218.00" r="1.8" fill="#800080"/>
<circle cx="224.10" cy="221.70" r="1.8" fill="#800080"/>
<circle cx="224.10" cy="224.30" r="1.8" fill="#800080"/>
<circle cx="218.00" cy="227.00" r="1.8" fill="#800080"/>
<circle cx="221.00" cy="227.50" r="1.8" fill="#800080"/>
<circle cx="224.00" cy="226.50" r="1.8" fill="#800080"/>
<circle cx="227.00" cy="227.50" r="1.8" fill="#800080"/>
<circle cx="230.00" cy="227.00" r="1.8" fill="#800080"/>
<circle cx="233.00" cy="228.50" r="1.8" fill="#800080"/>
<circle cx="216.50" cy="229.80" r="1.8" fill="#800080"/>
<circle cx="219.50" cy="229.80" r="1.8" fill="#800080"/>
<circle cx="222.50" cy="229.80" r="1.8" fill="#800080"/>
<circle cx="225.50" cy="229.80" r="1.8" fill="#800080"/>
<circle cx="228.50" cy="229.80" r="1.8" fill="#800080"/>
<circle cx="231.50" cy="229.80" r="1.8" fill="#800080"/>
<line x1="196.00" y1="231.00" x2="214.70" y2="231.00" stroke="#3a0000" stroke-width="0.9"/>
<line x1="215.40" y1="228.00" x2="234.10" y2="228.00" stroke="#2b0a2b" stroke-width="0.9"/>
<line x1="25.90" y1="288.70" x2="25.90" y2="372.80" stroke="#999" stroke-width="1.7"/>
<line x1="22.10" y1="372.80" x2="82.00" y2="372.80" stroke="#3a3a3a" stroke-width="2.1"/>
<line x1="22.10" y1="372.80" x2="25.90" y2="372.80" stroke="#222" stroke-width="1.1"/>
<text x="21.10" y="375.64" font-size="6.5" text-anchor="end" fill="#111" font-weight="bold" textLength="8.40" lengthAdjust="spacingAndGlyphs" stroke="#111" stroke-width="0.22">0.0</text>
<line x1="22.10" y1="355.98" x2="25.90" y2="355.98" stroke="#222" stroke-width="1.1"/>
<text x="21.10" y="358.82" font-size="6.5" text-anchor="end" fill="#111" font-weight="bold" textLength="8.40" lengthAdjust="spacingAndGlyphs" stroke="#111" stroke-width="0.22">0.2</text>
<line x1="22.10" y1="339.16" x2="25.90" y2="339.16" stroke="#222" stroke-width="1.1"/>
<text x="21.10" y="342.00" font-size="6.5" text-anchor="end" fill="#111" font-weight="bold" textLength="8.40" lengthAdjust="spacingAndGlyphs" stroke="#111" stroke-width="0.22">0.4</text>
<line x1="22.10" y1="322.34" x2="25.90" y2="322.34" stroke="#222" stroke-width="1.1"/>
<text x="21.10" y="325.18" font-size="6.5" text-anchor="end" fill="#111" font-weight="bold" textLength="8.40" lengthAdjust="spacingAndGlyphs" stroke="#111" stroke-width="0.22">0.6</text>
<line x1="22.10" y1="305.52" x2="25.90" y2="305.52" stroke="#222" stroke-width="1.1"/>
<text x="21.10" y="308.36" font-size="6.5" text-anchor="end" fill="#111" font-weight="bold" textLength="8.40" lengthAdjust="spacingAndGlyphs" stroke="#111" stroke-width="0.22">0.8</text>
<line x1="22.10" y1="288.70" x2="25.90" y2="288.70" stroke="#222" stroke-width="1.1"/>
<text x="21.10" y="291.54" font-size="6.5" text-anchor="end" fill="#111" font-weight="bold" textLength="8.40" lengthAdjust="spacingAndGlyphs" stroke="#111" stroke-width="0.22">1.0</text>
<line x1="41.80" y1="372.80" x2="41.80" y2="375.30" stroke="#333" stroke-width="1.1"/>
<line x1="65.70" y1="372.80" x2="65.70" y2="375.30" stroke="#333" stroke-width="1.1"/>
<text x="51.00" y="274.60" font-size="8.8" text-anchor="middle" fill="#1a1a1a" textLength="18.20" lengthAdjust="spacingAndGlyphs" stroke="#1a1a1a" stroke-width="0.15">BDNF</text>
<text x="54.35" y="287.30" font-size="8.7" text-anchor="middle" fill="#1a1a1a" textLength="32.50" lengthAdjust="spacingAndGlyphs" stroke="#1a1a1a" stroke-width="0.08">P=0.0015</text>
<text x="8.34" y="323.80" font-size="6.4" text-anchor="middle" fill="#222" textLength="15.00" lengthAdjust="spacingAndGlyphs" transform="rotate(-90 8.34 323.80)">pg/ul</text>
<text x="43.20" y="383.70" font-size="7.0" text-anchor="end" fill="#1a1a1a" font-weight="bold" textLength="26.50" lengthAdjust="spacingAndGlyphs" transform="rotate(-45 43.20 383.70)" stroke="#1a1a1a" stroke-width="0.12">baseline</text>
<text x="68.00" y="383.00" font-size="7.0" text-anchor="end" fill="#1a1a1a" font-weight="bold" textLength="29.50" lengthAdjust="spacingAndGlyphs" transform="rotate(-45 68.00 383.00)" stroke="#1a1a1a" stroke-width="0.12">after PRP</text>
<line x1="109.30" y1="289.40" x2="109.30" y2="373.40" stroke="#999" stroke-width="1.5"/>
<line x1="105.50" y1="373.40" x2="165.20" y2="373.40" stroke="#111" stroke-width="1.4"/>
<line x1="105.50" y1="373.40" x2="109.30" y2="373.40" stroke="#222" stroke-width="1.1"/>
<text x="104.20" y="376.24" font-size="6.5" text-anchor="end" fill="#111" font-weight="bold" textLength="8.20" lengthAdjust="spacingAndGlyphs" stroke="#111" stroke-width="0.22">0.0</text>
<line x1="105.50" y1="345.40" x2="109.30" y2="345.40" stroke="#222" stroke-width="1.1"/>
<text x="104.20" y="348.24" font-size="6.5" text-anchor="end" fill="#111" font-weight="bold" textLength="8.20" lengthAdjust="spacingAndGlyphs" stroke="#111" stroke-width="0.22">0.1</text>
<line x1="105.50" y1="317.40" x2="109.30" y2="317.40" stroke="#222" stroke-width="1.1"/>
<text x="104.20" y="320.24" font-size="6.5" text-anchor="end" fill="#111" font-weight="bold" textLength="8.20" lengthAdjust="spacingAndGlyphs" stroke="#111" stroke-width="0.22">0.2</text>
<line x1="105.50" y1="289.40" x2="109.30" y2="289.40" stroke="#222" stroke-width="1.1"/>
<text x="104.20" y="292.24" font-size="6.5" text-anchor="end" fill="#111" font-weight="bold" textLength="8.20" lengthAdjust="spacingAndGlyphs" stroke="#111" stroke-width="0.22">0.3</text>
<line x1="124.70" y1="373.40" x2="124.70" y2="375.90" stroke="#333" stroke-width="1.1"/>
<line x1="148.30" y1="373.40" x2="148.30" y2="375.90" stroke="#333" stroke-width="1.1"/>
<text x="138.40" y="273.90" font-size="8.8" text-anchor="middle" fill="#1a1a1a" textLength="14.60" lengthAdjust="spacingAndGlyphs" stroke="#1a1a1a" stroke-width="0.15">NGF</text>
<text x="138.40" y="287.30" font-size="8.7" text-anchor="middle" fill="#1a1a1a" textLength="32.20" lengthAdjust="spacingAndGlyphs" stroke="#1a1a1a" stroke-width="0.08">P=0.5327</text>
<text x="90.84" y="322.30" font-size="6.4" text-anchor="middle" fill="#222" textLength="15.00" lengthAdjust="spacingAndGlyphs" transform="rotate(-90 90.84 322.30)">pg/ul</text>
<text x="126.20" y="385.00" font-size="7.0" text-anchor="end" fill="#1a1a1a" font-weight="bold" textLength="26.50" lengthAdjust="spacingAndGlyphs" transform="rotate(-45 126.20 385.00)" stroke="#1a1a1a" stroke-width="0.12">baseline</text>
<text x="151.00" y="382.60" font-size="7.0" text-anchor="end" fill="#1a1a1a" font-weight="bold" textLength="29.50" lengthAdjust="spacingAndGlyphs" transform="rotate(-45 151.00 382.60)" stroke="#1a1a1a" stroke-width="0.12">after PRP</text>
<line x1="190.80" y1="289.00" x2="190.80" y2="373.50" stroke="#555" stroke-width="1.6"/>
<line x1="187.80" y1="373.50" x2="250.00" y2="373.50" stroke="#111" stroke-width="1.4"/>
<line x1="187.80" y1="373.50" x2="190.80" y2="373.50" stroke="#222" stroke-width="1.1"/>
<text x="186.80" y="376.34" font-size="6.5" text-anchor="end" fill="#111" font-weight="bold" textLength="3.40" lengthAdjust="spacingAndGlyphs" stroke="#111" stroke-width="0.22">0</text>
<line x1="187.80" y1="356.60" x2="190.80" y2="356.60" stroke="#222" stroke-width="1.1"/>
<text x="186.80" y="359.44" font-size="6.5" text-anchor="end" fill="#111" font-weight="bold" textLength="14.30" lengthAdjust="spacingAndGlyphs" stroke="#111" stroke-width="0.22">2000</text>
<line x1="187.80" y1="339.70" x2="190.80" y2="339.70" stroke="#222" stroke-width="1.1"/>
<text x="186.80" y="342.54" font-size="6.5" text-anchor="end" fill="#111" font-weight="bold" textLength="14.30" lengthAdjust="spacingAndGlyphs" stroke="#111" stroke-width="0.22">4000</text>
<line x1="187.80" y1="322.80" x2="190.80" y2="322.80" stroke="#222" stroke-width="1.1"/>
<text x="186.80" y="325.64" font-size="6.5" text-anchor="end" fill="#111" font-weight="bold" textLength="14.30" lengthAdjust="spacingAndGlyphs" stroke="#111" stroke-width="0.22">6000</text>
<line x1="187.80" y1="305.90" x2="190.80" y2="305.90" stroke="#222" stroke-width="1.1"/>
<text x="186.80" y="308.74" font-size="6.5" text-anchor="end" fill="#111" font-weight="bold" textLength="14.30" lengthAdjust="spacingAndGlyphs" stroke="#111" stroke-width="0.22">8000</text>
<line x1="187.80" y1="289.00" x2="190.80" y2="289.00" stroke="#222" stroke-width="1.1"/>
<text x="186.80" y="291.84" font-size="6.5" text-anchor="end" fill="#111" font-weight="bold" textLength="17.10" lengthAdjust="spacingAndGlyphs" stroke="#111" stroke-width="0.22">10000</text>
<line x1="207.00" y1="373.50" x2="207.00" y2="376.00" stroke="#333" stroke-width="1.1"/>
<line x1="231.70" y1="373.50" x2="231.70" y2="376.00" stroke="#333" stroke-width="1.1"/>
<text x="219.45" y="273.90" font-size="8.8" text-anchor="middle" fill="#1a1a1a" textLength="13.30" lengthAdjust="spacingAndGlyphs" stroke="#1a1a1a" stroke-width="0.15">EGF</text>
<text x="219.60" y="287.30" font-size="8.7" text-anchor="middle" fill="#1a1a1a" textLength="32.60" lengthAdjust="spacingAndGlyphs" stroke="#1a1a1a" stroke-width="0.08">P=0.4631</text>
<text x="165.04" y="323.60" font-size="6.4" text-anchor="middle" fill="#222" textLength="15.00" lengthAdjust="spacingAndGlyphs" transform="rotate(-90 165.04 323.60)">pg/ul</text>
<text x="208.20" y="383.20" font-size="7.0" text-anchor="end" fill="#1a1a1a" font-weight="bold" textLength="26.50" lengthAdjust="spacingAndGlyphs" transform="rotate(-45 208.20 383.20)" stroke="#1a1a1a" stroke-width="0.12">baseline</text>
<text x="233.00" y="383.00" font-size="7.0" text-anchor="end" fill="#1a1a1a" font-weight="bold" textLength="29.50" lengthAdjust="spacingAndGlyphs" transform="rotate(-45 233.00 383.00)" stroke="#1a1a1a" stroke-width="0.12">after PRP</text>
<line x1="269.00" y1="289.00" x2="269.00" y2="372.80" stroke="#999" stroke-width="1.8"/>
<line x1="265.30" y1="372.80" x2="326.20" y2="372.80" stroke="#444" stroke-width="2.0"/>
<line x1="265.30" y1="372.80" x2="269.00" y2="372.80" stroke="#222" stroke-width="1.1"/>
<text x="264.30" y="375.64" font-size="6.5" text-anchor="end" fill="#111" font-weight="bold" textLength="3.30" lengthAdjust="spacingAndGlyphs" stroke="#111" stroke-width="0.22">0</text>
<line x1="265.30" y1="344.87" x2="269.00" y2="344.87" stroke="#222" stroke-width="1.1"/>
<text x="264.30" y="347.71" font-size="6.5" text-anchor="end" fill="#111" font-weight="bold" textLength="6.80" lengthAdjust="spacingAndGlyphs" stroke="#111" stroke-width="0.22">20</text>
<line x1="265.30" y1="316.93" x2="269.00" y2="316.93" stroke="#222" stroke-width="1.1"/>
<text x="264.30" y="319.77" font-size="6.5" text-anchor="end" fill="#111" font-weight="bold" textLength="6.80" lengthAdjust="spacingAndGlyphs" stroke="#111" stroke-width="0.22">40</text>
<line x1="265.30" y1="289.00" x2="269.00" y2="289.00" stroke="#222" stroke-width="1.1"/>
<text x="264.30" y="291.84" font-size="6.5" text-anchor="end" fill="#111" font-weight="bold" textLength="6.80" lengthAdjust="spacingAndGlyphs" stroke="#111" stroke-width="0.22">60</text>
<line x1="284.60" y1="372.80" x2="284.60" y2="375.30" stroke="#333" stroke-width="1.1"/>
<line x1="308.80" y1="372.80" x2="308.80" y2="375.30" stroke="#333" stroke-width="1.1"/>
<text x="295.35" y="273.40" font-size="8.8" text-anchor="middle" fill="#1a1a1a" textLength="17.50" lengthAdjust="spacingAndGlyphs" stroke="#1a1a1a" stroke-width="0.15">VEGF</text>
<text x="295.55" y="286.70" font-size="8.7" text-anchor="middle" fill="#1a1a1a" textLength="32.50" lengthAdjust="spacingAndGlyphs" stroke="#1a1a1a" stroke-width="0.08">P=0.3660</text>
<text x="250.64" y="323.60" font-size="6.4" text-anchor="middle" fill="#222" textLength="15.00" lengthAdjust="spacingAndGlyphs" transform="rotate(-90 250.64 323.60)">pg/ul</text>
<text x="285.50" y="384.20" font-size="7.0" text-anchor="end" fill="#1a1a1a" font-weight="bold" textLength="26.50" lengthAdjust="spacingAndGlyphs" transform="rotate(-45 285.50 384.20)" stroke="#1a1a1a" stroke-width="0.12">baseline</text>
<text x="311.00" y="383.00" font-size="7.0" text-anchor="end" fill="#1a1a1a" font-weight="bold" textLength="29.50" lengthAdjust="spacingAndGlyphs" transform="rotate(-45 311.00 383.00)" stroke="#1a1a1a" stroke-width="0.12">after PRP</text>
<line x1="28.00" y1="434.70" x2="28.00" y2="518.70" stroke="#999" stroke-width="1.6"/>
<line x1="24.20" y1="518.70" x2="83.40" y2="518.70" stroke="#222" stroke-width="1.6"/>
<line x1="24.20" y1="518.70" x2="28.00" y2="518.70" stroke="#222" stroke-width="1.1"/>
<text x="23.10" y="521.54" font-size="6.5" text-anchor="end" fill="#111" font-weight="bold" textLength="8.10" lengthAdjust="spacingAndGlyphs" stroke="#111" stroke-width="0.22">0.0</text>
<line x1="24.20" y1="497.70" x2="28.00" y2="497.70" stroke="#222" stroke-width="1.1"/>
<text x="23.10" y="500.54" font-size="6.5" text-anchor="end" fill="#111" font-weight="bold" textLength="8.10" lengthAdjust="spacingAndGlyphs" stroke="#111" stroke-width="0.22">0.1</text>
<line x1="24.20" y1="476.70" x2="28.00" y2="476.70" stroke="#222" stroke-width="1.1"/>
<text x="23.10" y="479.54" font-size="6.5" text-anchor="end" fill="#111" font-weight="bold" textLength="8.10" lengthAdjust="spacingAndGlyphs" stroke="#111" stroke-width="0.22">0.2</text>
<line x1="24.20" y1="455.70" x2="28.00" y2="455.70" stroke="#222" stroke-width="1.1"/>
<text x="23.10" y="458.54" font-size="6.5" text-anchor="end" fill="#111" font-weight="bold" textLength="8.10" lengthAdjust="spacingAndGlyphs" stroke="#111" stroke-width="0.22">0.3</text>
<line x1="24.20" y1="434.70" x2="28.00" y2="434.70" stroke="#222" stroke-width="1.1"/>
<text x="23.10" y="437.54" font-size="6.5" text-anchor="end" fill="#111" font-weight="bold" textLength="8.10" lengthAdjust="spacingAndGlyphs" stroke="#111" stroke-width="0.22">0.4</text>
<line x1="44.30" y1="518.70" x2="44.30" y2="521.20" stroke="#333" stroke-width="1.1"/>
<line x1="68.40" y1="518.70" x2="68.40" y2="521.20" stroke="#333" stroke-width="1.1"/>
<text x="57.95" y="419.30" font-size="8.8" text-anchor="middle" fill="#1a1a1a" textLength="11.70" lengthAdjust="spacingAndGlyphs" stroke="#1a1a1a" stroke-width="0.15">IL-2</text>
<text x="57.75" y="435.80" font-size="8.7" text-anchor="middle" fill="#1a1a1a" textLength="31.70" lengthAdjust="spacingAndGlyphs" stroke="#1a1a1a" stroke-width="0.08">P=0.2363</text>
<text x="10.84" y="473.30" font-size="6.4" text-anchor="middle" fill="#222" textLength="15.00" lengthAdjust="spacingAndGlyphs" transform="rotate(-90 10.84 473.30)">pg/ul</text>
<text x="44.70" y="529.70" font-size="7.0" text-anchor="end" fill="#1a1a1a" font-weight="bold" textLength="26.50" lengthAdjust="spacingAndGlyphs" transform="rotate(-45 44.70 529.70)" stroke="#1a1a1a" stroke-width="0.12">baseline</text>
<text x="70.00" y="527.50" font-size="7.0" text-anchor="end" fill="#1a1a1a" font-weight="bold" textLength="29.50" lengthAdjust="spacingAndGlyphs" transform="rotate(-45 70.00 527.50)" stroke="#1a1a1a" stroke-width="0.12">after PRP</text>
<line x1="109.60" y1="433.10" x2="109.60" y2="517.50" stroke="#111" stroke-width="1.2"/>
<line x1="105.80" y1="517.50" x2="166.00" y2="517.50" stroke="#111" stroke-width="1.3"/>
<line x1="105.80" y1="517.50" x2="109.60" y2="517.50" stroke="#222" stroke-width="1.1"/>
<text x="104.70" y="520.34" font-size="6.5" text-anchor="end" fill="#111" font-weight="bold" textLength="3.30" lengthAdjust="spacingAndGlyphs" stroke="#111" stroke-width="0.22">0</text>
<line x1="105.80" y1="496.40" x2="109.60" y2="496.40" stroke="#222" stroke-width="1.1"/>
<text x="104.70" y="499.24" font-size="6.5" text-anchor="end" fill="#111" font-weight="bold" textLength="6.60" lengthAdjust="spacingAndGlyphs" stroke="#111" stroke-width="0.22">20</text>
<line x1="105.80" y1="475.30" x2="109.60" y2="475.30" stroke="#222" stroke-width="1.1"/>
<text x="104.70" y="478.14" font-size="6.5" text-anchor="end" fill="#111" font-weight="bold" textLength="6.60" lengthAdjust="spacingAndGlyphs" stroke="#111" stroke-width="0.22">40</text>
<line x1="105.80" y1="454.20" x2="109.60" y2="454.20" stroke="#222" stroke-width="1.1"/>
<text x="104.70" y="457.04" font-size="6.5" text-anchor="end" fill="#111" font-weight="bold" textLength="6.60" lengthAdjust="spacingAndGlyphs" stroke="#111" stroke-width="0.22">60</text>
<line x1="105.80" y1="433.10" x2="109.60" y2="433.10" stroke="#222" stroke-width="1.1"/>
<text x="104.70" y="435.94" font-size="6.5" text-anchor="end" fill="#111" font-weight="bold" textLength="6.60" lengthAdjust="spacingAndGlyphs" stroke="#111" stroke-width="0.22">80</text>
<line x1="125.00" y1="517.50" x2="125.00" y2="520.00" stroke="#333" stroke-width="1.1"/>
<line x1="149.60" y1="517.50" x2="149.60" y2="520.00" stroke="#333" stroke-width="1.1"/>
<text x="139.50" y="420.40" font-size="8.8" text-anchor="middle" fill="#1a1a1a" textLength="13.10" lengthAdjust="spacingAndGlyphs" stroke="#1a1a1a" stroke-width="0.15">IL-6</text>
<text x="138.55" y="435.40" font-size="8.7" text-anchor="middle" fill="#1a1a1a" textLength="32.70" lengthAdjust="spacingAndGlyphs" stroke="#1a1a1a" stroke-width="0.08">P=0.1726</text>
<text x="90.64" y="473.40" font-size="6.4" text-anchor="middle" fill="#222" textLength="15.00" lengthAdjust="spacingAndGlyphs" transform="rotate(-90 90.64 473.40)">pg/ul</text>
<text x="126.70" y="528.70" font-size="7.0" text-anchor="end" fill="#1a1a1a" font-weight="bold" textLength="26.50" lengthAdjust="spacingAndGlyphs" transform="rotate(-45 126.70 528.70)" stroke="#1a1a1a" stroke-width="0.12">baseline</text>
<text x="151.50" y="527.50" font-size="7.0" text-anchor="end" fill="#1a1a1a" font-weight="bold" textLength="29.50" lengthAdjust="spacingAndGlyphs" transform="rotate(-45 151.50 527.50)" stroke="#1a1a1a" stroke-width="0.12">after PRP</text>
<line x1="192.50" y1="433.10" x2="192.50" y2="518.00" stroke="#111" stroke-width="1.2"/>
<line x1="188.70" y1="518.00" x2="247.40" y2="518.00" stroke="#999" stroke-width="2.0"/>
<line x1="188.70" y1="518.00" x2="192.50" y2="518.00" stroke="#222" stroke-width="1.1"/>
<text x="187.70" y="520.84" font-size="6.5" text-anchor="end" fill="#111" font-weight="bold" textLength="3.30" lengthAdjust="spacingAndGlyphs" stroke="#111" stroke-width="0.22">0</text>
<line x1="188.70" y1="496.77" x2="192.50" y2="496.77" stroke="#222" stroke-width="1.1"/>
<text x="187.70" y="499.61" font-size="6.5" text-anchor="end" fill="#111" font-weight="bold" textLength="10.20" lengthAdjust="spacingAndGlyphs" stroke="#111" stroke-width="0.22">200</text>
<line x1="188.70" y1="475.55" x2="192.50" y2="475.55" stroke="#222" stroke-width="1.1"/>
<text x="187.70" y="478.39" font-size="6.5" text-anchor="end" fill="#111" font-weight="bold" textLength="10.20" lengthAdjust="spacingAndGlyphs" stroke="#111" stroke-width="0.22">400</text>
<line x1="188.70" y1="454.33" x2="192.50" y2="454.33" stroke="#222" stroke-width="1.1"/>
<text x="187.70" y="457.17" font-size="6.5" text-anchor="end" fill="#111" font-weight="bold" textLength="10.20" lengthAdjust="spacingAndGlyphs" stroke="#111" stroke-width="0.22">600</text>
<line x1="188.70" y1="433.10" x2="192.50" y2="433.10" stroke="#222" stroke-width="1.1"/>
<text x="187.70" y="435.94" font-size="6.5" text-anchor="end" fill="#111" font-weight="bold" textLength="10.20" lengthAdjust="spacingAndGlyphs" stroke="#111" stroke-width="0.22">800</text>
<line x1="208.30" y1="518.00" x2="208.30" y2="520.50" stroke="#333" stroke-width="1.1"/>
<line x1="232.40" y1="518.00" x2="232.40" y2="520.50" stroke="#333" stroke-width="1.1"/>
<text x="217.55" y="420.30" font-size="8.8" text-anchor="middle" fill="#1a1a1a" textLength="12.90" lengthAdjust="spacingAndGlyphs" stroke="#1a1a1a" stroke-width="0.15">IL-8</text>
<text x="219.95" y="435.40" font-size="8.7" text-anchor="middle" fill="#1a1a1a" textLength="32.60" lengthAdjust="spacingAndGlyphs" stroke="#1a1a1a" stroke-width="0.08">P=0.6698</text>
<text x="172.54" y="473.40" font-size="6.4" text-anchor="middle" fill="#222" textLength="15.00" lengthAdjust="spacingAndGlyphs" transform="rotate(-90 172.54 473.40)">pg/ul</text>
<text x="209.20" y="528.70" font-size="7.0" text-anchor="end" fill="#1a1a1a" font-weight="bold" textLength="26.50" lengthAdjust="spacingAndGlyphs" transform="rotate(-45 209.20 528.70)" stroke="#1a1a1a" stroke-width="0.12">baseline</text>
<text x="234.50" y="527.50" font-size="7.0" text-anchor="end" fill="#1a1a1a" font-weight="bold" textLength="29.50" lengthAdjust="spacingAndGlyphs" transform="rotate(-45 234.50 527.50)" stroke="#1a1a1a" stroke-width="0.12">after PRP</text>
<line x1="41.80" y1="295.50" x2="65.70" y2="315.70" stroke="#151515" stroke-width="0.9" stroke-dasharray="1.1 1.3"/>
<line x1="41.80" y1="306.60" x2="65.70" y2="315.70" stroke="#151515" stroke-width="0.9" stroke-dasharray="1.1 1.3"/>
<line x1="41.80" y1="311.90" x2="65.70" y2="320.90" stroke="#151515" stroke-width="0.9" stroke-dasharray="1.1 1.3"/>
<line x1="41.80" y1="316.30" x2="65.70" y2="322.50" stroke="#151515" stroke-width="0.9" stroke-dasharray="1.1 1.3"/>
<line x1="41.80" y1="317.90" x2="65.70" y2="320.90" stroke="#151515" stroke-width="0.9" stroke-dasharray="1.1 1.3"/>
<line x1="41.80" y1="319.50" x2="65.70" y2="326.00" stroke="#151515" stroke-width="0.9" stroke-dasharray="1.1 1.3"/>
<line x1="41.80" y1="316.30" x2="65.70" y2="326.00" stroke="#151515" stroke-width="0.9" stroke-dasharray="1.1 1.3"/>
<line x1="41.80" y1="321.00" x2="65.70" y2="322.50" stroke="#151515" stroke-width="0.9" stroke-dasharray="1.1 1.3"/>
<line x1="41.80" y1="326.10" x2="65.70" y2="329.10" stroke="#151515" stroke-width="0.9" stroke-dasharray="1.1 1.3"/>
<line x1="41.80" y1="328.80" x2="65.70" y2="329.10" stroke="#151515" stroke-width="0.9" stroke-dasharray="1.1 1.3"/>
<line x1="41.80" y1="312.50" x2="65.70" y2="322.50" stroke="#151515" stroke-width="0.9" stroke-dasharray="1.1 1.3"/>
<circle cx="41.80" cy="295.50" r="1.45" fill="#ff0000"/>
<circle cx="41.80" cy="306.60" r="1.45" fill="#ff0000"/>
<circle cx="41.80" cy="311.90" r="1.45" fill="#ff0000"/>
<circle cx="41.80" cy="316.30" r="1.45" fill="#ff0000"/>
<circle cx="41.80" cy="317.90" r="1.45" fill="#ff0000"/>
<circle cx="41.80" cy="319.50" r="1.45" fill="#ff0000"/>
<circle cx="41.80" cy="316.30" r="1.45" fill="#ff0000"/>
<circle cx="41.80" cy="321.00" r="1.45" fill="#ff0000"/>
<circle cx="41.80" cy="326.10" r="1.45" fill="#ff0000"/>
<circle cx="41.80" cy="328.80" r="1.45" fill="#ff0000"/>
<circle cx="41.80" cy="312.50" r="1.45" fill="#ff0000"/>
<circle cx="65.70" cy="315.70" r="1.45" fill="#8b22b5"/>
<circle cx="65.70" cy="315.70" r="1.45" fill="#8b22b5"/>
<circle cx="65.70" cy="320.90" r="1.45" fill="#8b22b5"/>
<circle cx="65.70" cy="322.50" r="1.45" fill="#8b22b5"/>
<circle cx="65.70" cy="320.90" r="1.45" fill="#8b22b5"/>
<circle cx="65.70" cy="326.00" r="1.45" fill="#8b22b5"/>
<circle cx="65.70" cy="326.00" r="1.45" fill="#8b22b5"/>
<circle cx="65.70" cy="322.50" r="1.45" fill="#8b22b5"/>
<circle cx="65.70" cy="329.10" r="1.45" fill="#8b22b5"/>
<circle cx="65.70" cy="329.10" r="1.45" fill="#8b22b5"/>
<circle cx="65.70" cy="322.50" r="1.45" fill="#8b22b5"/>
<line x1="125.10" y1="303.20" x2="149.00" y2="331.10" stroke="#151515" stroke-width="0.9" stroke-dasharray="1.1 1.3"/>
<line x1="125.10" y1="305.90" x2="149.00" y2="325.90" stroke="#151515" stroke-width="0.9" stroke-dasharray="1.1 1.3"/>
<line x1="125.10" y1="314.70" x2="149.00" y2="318.50" stroke="#151515" stroke-width="0.9" stroke-dasharray="1.1 1.3"/>
<line x1="125.10" y1="320.40" x2="149.00" y2="316.70" stroke="#151515" stroke-width="0.9" stroke-dasharray="1.1 1.3"/>
<line x1="125.10" y1="321.80" x2="149.00" y2="309.20" stroke="#151515" stroke-width="0.9" stroke-dasharray="1.1 1.3"/>
<line x1="125.10" y1="323.70" x2="149.00" y2="320.40" stroke="#151515" stroke-width="0.9" stroke-dasharray="1.1 1.3"/>
<line x1="125.10" y1="325.60" x2="149.00" y2="307.60" stroke="#151515" stroke-width="0.9" stroke-dasharray="1.1 1.3"/>
<line x1="125.10" y1="327.80" x2="149.00" y2="314.90" stroke="#151515" stroke-width="0.9" stroke-dasharray="1.1 1.3"/>
<line x1="125.10" y1="329.80" x2="149.00" y2="305.90" stroke="#151515" stroke-width="0.9" stroke-dasharray="1.1 1.3"/>
<line x1="125.10" y1="331.70" x2="149.00" y2="300.30" stroke="#151515" stroke-width="0.9" stroke-dasharray="1.1 1.3"/>
<line x1="125.10" y1="320.40" x2="149.00" y2="333.30" stroke="#151515" stroke-width="0.9" stroke-dasharray="1.1 1.3"/>
<circle cx="125.10" cy="303.20" r="1.45" fill="#ff0000"/>
<circle cx="125.10" cy="305.90" r="1.45" fill="#ff0000"/>
<circle cx="125.10" cy="314.70" r="1.45" fill="#ff0000"/>
<circle cx="125.10" cy="320.40" r="1.45" fill="#ff0000"/>
<circle cx="125.10" cy="321.80" r="1.45" fill="#ff0000"/>
<circle cx="125.10" cy="323.70" r="1.45" fill="#ff0000"/>
<circle cx="125.10" cy="325.60" r="1.45" fill="#ff0000"/>
<circle cx="125.10" cy="327.80" r="1.45" fill="#ff0000"/>
<circle cx="125.10" cy="329.80" r="1.45" fill="#ff0000"/>
<circle cx="125.10" cy="331.70" r="1.45" fill="#ff0000"/>
<circle cx="125.10" cy="320.40" r="1.45" fill="#ff0000"/>
<circle cx="149.00" cy="331.10" r="1.45" fill="#8b22b5"/>
<circle cx="149.00" cy="325.90" r="1.45" fill="#8b22b5"/>
<circle cx="149.00" cy="318.50" r="1.45" fill="#8b22b5"/>
<circle cx="149.00" cy="316.70" r="1.45" fill="#8b22b5"/>
<circle cx="149.00" cy="309.20" r="1.45" fill="#8b22b5"/>
<circle cx="149.00" cy="320.40" r="1.45" fill="#8b22b5"/>
<circle cx="149.00" cy="307.60" r="1.45" fill="#8b22b5"/>
<circle cx="149.00" cy="314.90" r="1.45" fill="#8b22b5"/>
<circle cx="149.00" cy="305.90" r="1.45" fill="#8b22b5"/>
<circle cx="149.00" cy="300.30" r="1.45" fill="#8b22b5"/>
<circle cx="149.00" cy="333.30" r="1.45" fill="#8b22b5"/>
<line x1="207.20" y1="297.30" x2="231.40" y2="361.20" stroke="#151515" stroke-width="0.9" stroke-dasharray="1.1 1.3"/>
<line x1="207.20" y1="304.50" x2="231.40" y2="358.30" stroke="#151515" stroke-width="0.9" stroke-dasharray="1.1 1.3"/>
<line x1="207.20" y1="322.70" x2="231.40" y2="356.10" stroke="#151515" stroke-width="0.9" stroke-dasharray="1.1 1.3"/>
<line x1="207.20" y1="335.80" x2="231.40" y2="363.40" stroke="#151515" stroke-width="0.9" stroke-dasharray="1.1 1.3"/>
<line x1="207.20" y1="339.40" x2="231.40" y2="346.00" stroke="#151515" stroke-width="0.9" stroke-dasharray="1.1 1.3"/>
<line x1="207.20" y1="342.60" x2="231.40" y2="339.10" stroke="#151515" stroke-width="0.9" stroke-dasharray="1.1 1.3"/>
<line x1="207.20" y1="348.40" x2="231.40" y2="365.60" stroke="#151515" stroke-width="0.9" stroke-dasharray="1.1 1.3"/>
<line x1="207.20" y1="357.20" x2="231.40" y2="317.20" stroke="#151515" stroke-width="0.9" stroke-dasharray="1.1 1.3"/>
<line x1="207.20" y1="359.00" x2="231.40" y2="327.80" stroke="#151515" stroke-width="0.9" stroke-dasharray="1.1 1.3"/>
<line x1="207.20" y1="361.20" x2="231.40" y2="343.80" stroke="#151515" stroke-width="0.9" stroke-dasharray="1.1 1.3"/>
<line x1="207.20" y1="363.40" x2="231.40" y2="341.60" stroke="#151515" stroke-width="0.9" stroke-dasharray="1.1 1.3"/>
<line x1="207.20" y1="359.00" x2="231.40" y2="350.80" stroke="#151515" stroke-width="0.9" stroke-dasharray="1.1 1.3"/>
<circle cx="207.20" cy="297.30" r="1.45" fill="#ff0000"/>
<circle cx="207.20" cy="304.50" r="1.45" fill="#ff0000"/>
<circle cx="207.20" cy="322.70" r="1.45" fill="#ff0000"/>
<circle cx="207.20" cy="335.80" r="1.45" fill="#ff0000"/>
<circle cx="207.20" cy="339.40" r="1.45" fill="#ff0000"/>
<circle cx="207.20" cy="342.60" r="1.45" fill="#ff0000"/>
<circle cx="207.20" cy="348.40" r="1.45" fill="#ff0000"/>
<circle cx="207.20" cy="357.20" r="1.45" fill="#ff0000"/>
<circle cx="207.20" cy="359.00" r="1.45" fill="#ff0000"/>
<circle cx="207.20" cy="361.20" r="1.45" fill="#ff0000"/>
<circle cx="207.20" cy="363.40" r="1.45" fill="#ff0000"/>
<circle cx="207.20" cy="359.00" r="1.45" fill="#ff0000"/>
<circle cx="231.40" cy="361.20" r="1.45" fill="#8b22b5"/>
<circle cx="231.40" cy="358.30" r="1.45" fill="#8b22b5"/>
<circle cx="231.40" cy="356.10" r="1.45" fill="#8b22b5"/>
<circle cx="231.40" cy="363.40" r="1.45" fill="#8b22b5"/>
<circle cx="231.40" cy="346.00" r="1.45" fill="#8b22b5"/>
<circle cx="231.40" cy="339.10" r="1.45" fill="#8b22b5"/>
<circle cx="231.40" cy="365.60" r="1.45" fill="#8b22b5"/>
<circle cx="231.40" cy="317.20" r="1.45" fill="#8b22b5"/>
<circle cx="231.40" cy="327.80" r="1.45" fill="#8b22b5"/>
<circle cx="231.40" cy="343.80" r="1.45" fill="#8b22b5"/>
<circle cx="231.40" cy="341.60" r="1.45" fill="#8b22b5"/>
<circle cx="231.40" cy="350.80" r="1.45" fill="#8b22b5"/>
<line x1="285.00" y1="352.50" x2="308.80" y2="294.00" stroke="#151515" stroke-width="0.9" stroke-dasharray="1.1 1.3"/>
<line x1="285.00" y1="354.00" x2="308.80" y2="336.60" stroke="#151515" stroke-width="0.9" stroke-dasharray="1.1 1.3"/>
<line x1="285.00" y1="356.50" x2="308.80" y2="347.80" stroke="#151515" stroke-width="0.9" stroke-dasharray="1.1 1.3"/>
<line x1="285.00" y1="358.80" x2="308.80" y2="354.60" stroke="#151515" stroke-width="0.9" stroke-dasharray="1.1 1.3"/>
<line x1="285.00" y1="360.50" x2="308.80" y2="361.00" stroke="#151515" stroke-width="0.9" stroke-dasharray="1.1 1.3"/>
<line x1="285.00" y1="362.20" x2="308.80" y2="365.40" stroke="#151515" stroke-width="0.9" stroke-dasharray="1.1 1.3"/>
<line x1="285.00" y1="363.80" x2="308.80" y2="362.50" stroke="#151515" stroke-width="0.9" stroke-dasharray="1.1 1.3"/>
<line x1="285.00" y1="365.70" x2="308.80" y2="368.00" stroke="#151515" stroke-width="0.9" stroke-dasharray="1.1 1.3"/>
<line x1="285.00" y1="367.50" x2="308.80" y2="366.50" stroke="#151515" stroke-width="0.9" stroke-dasharray="1.1 1.3"/>
<line x1="285.00" y1="369.20" x2="308.80" y2="370.00" stroke="#151515" stroke-width="0.9" stroke-dasharray="1.1 1.3"/>
<line x1="285.00" y1="370.60" x2="308.80" y2="371.80" stroke="#151515" stroke-width="0.9" stroke-dasharray="1.1 1.3"/>
<line x1="285.00" y1="371.80" x2="308.80" y2="369.80" stroke="#151515" stroke-width="0.9" stroke-dasharray="1.1 1.3"/>
<circle cx="285.00" cy="352.50" r="1.45" fill="#ff0000"/>
<circle cx="285.00" cy="354.00" r="1.45" fill="#ff0000"/>
<circle cx="285.00" cy="356.50" r="1.45" fill="#ff0000"/>
<circle cx="285.00" cy="358.80" r="1.45" fill="#ff0000"/>
<circle cx="285.00" cy="360.50" r="1.45" fill="#ff0000"/>
<circle cx="285.00" cy="362.20" r="1.45" fill="#ff0000"/>
<circle cx="285.00" cy="363.80" r="1.45" fill="#ff0000"/>
<circle cx="285.00" cy="365.70" r="1.45" fill="#ff0000"/>
<circle cx="285.00" cy="367.50" r="1.45" fill="#ff0000"/>
<circle cx="285.00" cy="369.20" r="1.45" fill="#ff0000"/>
<circle cx="285.00" cy="370.60" r="1.45" fill="#ff0000"/>
<circle cx="285.00" cy="371.80" r="1.45" fill="#ff0000"/>
<circle cx="308.80" cy="294.00" r="1.45" fill="#8b22b5"/>
<circle cx="308.80" cy="336.60" r="1.45" fill="#8b22b5"/>
<circle cx="308.80" cy="347.80" r="1.45" fill="#8b22b5"/>
<circle cx="308.80" cy="354.60" r="1.45" fill="#8b22b5"/>
<circle cx="308.80" cy="361.00" r="1.45" fill="#8b22b5"/>
<circle cx="308.80" cy="365.40" r="1.45" fill="#8b22b5"/>
<circle cx="308.80" cy="362.50" r="1.45" fill="#8b22b5"/>
<circle cx="308.80" cy="368.00" r="1.45" fill="#8b22b5"/>
<circle cx="308.80" cy="366.50" r="1.45" fill="#8b22b5"/>
<circle cx="308.80" cy="370.00" r="1.45" fill="#8b22b5"/>
<circle cx="308.80" cy="371.80" r="1.45" fill="#8b22b5"/>
<circle cx="308.80" cy="369.80" r="1.45" fill="#8b22b5"/>
<line x1="44.20" y1="457.70" x2="68.40" y2="455.50" stroke="#151515" stroke-width="0.9" stroke-dasharray="1.1 1.3"/>
<line x1="44.20" y1="459.30" x2="68.40" y2="458.80" stroke="#151515" stroke-width="0.9" stroke-dasharray="1.1 1.3"/>
<line x1="44.20" y1="464.00" x2="68.40" y2="457.10" stroke="#151515" stroke-width="0.9" stroke-dasharray="1.1 1.3"/>
<line x1="44.20" y1="465.30" x2="68.40" y2="466.20" stroke="#151515" stroke-width="0.9" stroke-dasharray="1.1 1.3"/>
<line x1="44.20" y1="468.60" x2="68.40" y2="470.80" stroke="#151515" stroke-width="0.9" stroke-dasharray="1.1 1.3"/>
<line x1="44.20" y1="472.80" x2="68.40" y2="486.10" stroke="#151515" stroke-width="0.9" stroke-dasharray="1.1 1.3"/>
<line x1="44.20" y1="482.80" x2="68.40" y2="460.40" stroke="#151515" stroke-width="0.9" stroke-dasharray="1.1 1.3"/>
<line x1="44.20" y1="487.40" x2="68.40" y2="487.70" stroke="#151515" stroke-width="0.9" stroke-dasharray="1.1 1.3"/>
<line x1="44.20" y1="464.00" x2="68.40" y2="469.70" stroke="#151515" stroke-width="0.9" stroke-dasharray="1.1 1.3"/>
<line x1="44.20" y1="468.60" x2="68.40" y2="476.30" stroke="#151515" stroke-width="0.9" stroke-dasharray="1.1 1.3"/>
<line x1="44.20" y1="472.80" x2="68.40" y2="482.80" stroke="#151515" stroke-width="0.9" stroke-dasharray="1.1 1.3"/>
<line x1="44.20" y1="459.30" x2="68.40" y2="467.80" stroke="#151515" stroke-width="0.9" stroke-dasharray="1.1 1.3"/>
<circle cx="44.20" cy="457.70" r="1.45" fill="#ff0000"/>
<circle cx="44.20" cy="459.30" r="1.45" fill="#ff0000"/>
<circle cx="44.20" cy="464.00" r="1.45" fill="#ff0000"/>
<circle cx="44.20" cy="465.30" r="1.45" fill="#ff0000"/>
<circle cx="44.20" cy="468.60" r="1.45" fill="#ff0000"/>
<circle cx="44.20" cy="472.80" r="1.45" fill="#ff0000"/>
<circle cx="44.20" cy="482.80" r="1.45" fill="#ff0000"/>
<circle cx="44.20" cy="487.40" r="1.45" fill="#ff0000"/>
<circle cx="44.20" cy="464.00" r="1.45" fill="#ff0000"/>
<circle cx="44.20" cy="468.60" r="1.45" fill="#ff0000"/>
<circle cx="44.20" cy="472.80" r="1.45" fill="#ff0000"/>
<circle cx="44.20" cy="459.30" r="1.45" fill="#ff0000"/>
<circle cx="68.40" cy="455.50" r="1.45" fill="#8b22b5"/>
<circle cx="68.40" cy="458.80" r="1.45" fill="#8b22b5"/>
<circle cx="68.40" cy="457.10" r="1.45" fill="#8b22b5"/>
<circle cx="68.40" cy="466.20" r="1.45" fill="#8b22b5"/>
<circle cx="68.40" cy="470.80" r="1.45" fill="#8b22b5"/>
<circle cx="68.40" cy="486.10" r="1.45" fill="#8b22b5"/>
<circle cx="68.40" cy="460.40" r="1.45" fill="#8b22b5"/>
<circle cx="68.40" cy="487.70" r="1.45" fill="#8b22b5"/>
<circle cx="68.40" cy="469.70" r="1.45" fill="#8b22b5"/>
<circle cx="68.40" cy="476.30" r="1.45" fill="#8b22b5"/>
<circle cx="68.40" cy="482.80" r="1.45" fill="#8b22b5"/>
<circle cx="68.40" cy="467.80" r="1.45" fill="#8b22b5"/>
<line x1="125.50" y1="446.90" x2="149.90" y2="443.70" stroke="#151515" stroke-width="0.9" stroke-dasharray="1.1 1.3"/>
<line x1="125.50" y1="509.50" x2="149.90" y2="486.30" stroke="#151515" stroke-width="0.9" stroke-dasharray="1.1 1.3"/>
<line x1="125.50" y1="510.00" x2="149.90" y2="492.00" stroke="#151515" stroke-width="0.9" stroke-dasharray="1.1 1.3"/>
<line x1="125.50" y1="511.50" x2="149.90" y2="504.40" stroke="#151515" stroke-width="0.9" stroke-dasharray="1.1 1.3"/>
<line x1="125.50" y1="512.50" x2="149.90" y2="505.40" stroke="#151515" stroke-width="0.9" stroke-dasharray="1.1 1.3"/>
<line x1="125.50" y1="513.50" x2="149.90" y2="509.30" stroke="#151515" stroke-width="0.9" stroke-dasharray="1.1 1.3"/>
<line x1="125.50" y1="514.50" x2="149.90" y2="513.70" stroke="#151515" stroke-width="0.9" stroke-dasharray="1.1 1.3"/>
<line x1="125.50" y1="515.50" x2="149.90" y2="515.10" stroke="#151515" stroke-width="0.9" stroke-dasharray="1.1 1.3"/>
<line x1="125.50" y1="516.30" x2="149.90" y2="516.80" stroke="#151515" stroke-width="0.9" stroke-dasharray="1.1 1.3"/>
<line x1="125.50" y1="516.80" x2="149.90" y2="517.00" stroke="#151515" stroke-width="0.9" stroke-dasharray="1.1 1.3"/>
<line x1="125.50" y1="510.50" x2="149.90" y2="511.50" stroke="#151515" stroke-width="0.9" stroke-dasharray="1.1 1.3"/>
<circle cx="125.50" cy="446.90" r="1.45" fill="#ff0000"/>
<circle cx="125.50" cy="509.50" r="1.45" fill="#ff0000"/>
<circle cx="125.50" cy="510.00" r="1.45" fill="#ff0000"/>
<circle cx="125.50" cy="511.50" r="1.45" fill="#ff0000"/>
<circle cx="125.50" cy="512.50" r="1.45" fill="#ff0000"/>
<circle cx="125.50" cy="513.50" r="1.45" fill="#ff0000"/>
<circle cx="125.50" cy="514.50" r="1.45" fill="#ff0000"/>
<circle cx="125.50" cy="515.50" r="1.45" fill="#ff0000"/>
<circle cx="125.50" cy="516.30" r="1.45" fill="#ff0000"/>
<circle cx="125.50" cy="516.80" r="1.45" fill="#ff0000"/>
<circle cx="125.50" cy="510.50" r="1.45" fill="#ff0000"/>
<circle cx="149.90" cy="443.70" r="1.45" fill="#8b22b5"/>
<circle cx="149.90" cy="486.30" r="1.45" fill="#8b22b5"/>
<circle cx="149.90" cy="492.00" r="1.45" fill="#8b22b5"/>
<circle cx="149.90" cy="504.40" r="1.45" fill="#8b22b5"/>
<circle cx="149.90" cy="505.40" r="1.45" fill="#8b22b5"/>
<circle cx="149.90" cy="509.30" r="1.45" fill="#8b22b5"/>
<circle cx="149.90" cy="513.70" r="1.45" fill="#8b22b5"/>
<circle cx="149.90" cy="515.10" r="1.45" fill="#8b22b5"/>
<circle cx="149.90" cy="516.80" r="1.45" fill="#8b22b5"/>
<circle cx="149.90" cy="517.00" r="1.45" fill="#8b22b5"/>
<circle cx="149.90" cy="511.50" r="1.45" fill="#8b22b5"/>
<line x1="208.50" y1="500.30" x2="232.30" y2="453.30" stroke="#151515" stroke-width="0.9" stroke-dasharray="1.1 1.3"/>
<line x1="208.50" y1="510.90" x2="232.30" y2="510.10" stroke="#151515" stroke-width="0.9" stroke-dasharray="1.1 1.3"/>
<line x1="208.50" y1="514.30" x2="232.30" y2="513.00" stroke="#151515" stroke-width="0.9" stroke-dasharray="1.1 1.3"/>
<line x1="208.50" y1="515.50" x2="232.30" y2="514.90" stroke="#151515" stroke-width="0.9" stroke-dasharray="1.1 1.3"/>
<line x1="208.50" y1="516.50" x2="232.30" y2="514.90" stroke="#151515" stroke-width="0.9" stroke-dasharray="1.1 1.3"/>
<line x1="208.50" y1="517.30" x2="232.30" y2="516.80" stroke="#151515" stroke-width="0.9" stroke-dasharray="1.1 1.3"/>
<line x1="208.50" y1="514.90" x2="232.30" y2="516.80" stroke="#151515" stroke-width="0.9" stroke-dasharray="1.1 1.3"/>
<line x1="208.50" y1="516.00" x2="232.30" y2="513.00" stroke="#151515" stroke-width="0.9" stroke-dasharray="1.1 1.3"/>
<circle cx="208.50" cy="500.30" r="1.45" fill="#ff0000"/>
<circle cx="208.50" cy="510.90" r="1.45" fill="#ff0000"/>
<circle cx="208.50" cy="514.30" r="1.45" fill="#ff0000"/>
<circle cx="208.50" cy="515.50" r="1.45" fill="#ff0000"/>
<circle cx="208.50" cy="516.50" r="1.45" fill="#ff0000"/>
<circle cx="208.50" cy="517.30" r="1.45" fill="#ff0000"/>
<circle cx="208.50" cy="514.90" r="1.45" fill="#ff0000"/>
<circle cx="208.50" cy="516.00" r="1.45" fill="#ff0000"/>
<circle cx="232.30" cy="453.30" r="1.45" fill="#8b22b5"/>
<circle cx="232.30" cy="510.10" r="1.45" fill="#8b22b5"/>
<circle cx="232.30" cy="513.00" r="1.45" fill="#8b22b5"/>
<circle cx="232.30" cy="514.90" r="1.45" fill="#8b22b5"/>
<circle cx="232.30" cy="514.90" r="1.45" fill="#8b22b5"/>
<circle cx="232.30" cy="516.80" r="1.45" fill="#8b22b5"/>
<circle cx="232.30" cy="516.80" r="1.45" fill="#8b22b5"/>
<circle cx="232.30" cy="513.00" r="1.45" fill="#8b22b5"/>
</svg>
</body></html>
